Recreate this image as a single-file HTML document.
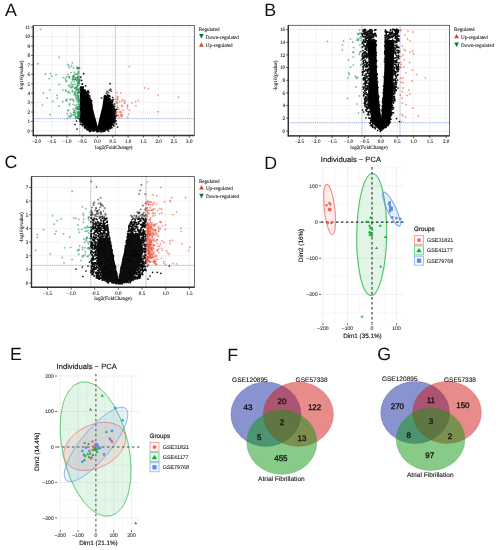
<!DOCTYPE html>
<html><head><meta charset="utf-8"><style>
html,body{margin:0;padding:0;background:#fff;}
svg{display:block;}
#w{will-change:transform;width:502px;height:550px;overflow:hidden;}
</style></head><body><div id="w">
<svg width="502" height="550" viewBox="0 0 502 550" text-rendering="geometricPrecision">
<rect width="502" height="550" fill="#fff"/>
<line x1="36.32" y1="25.4" x2="36.32" y2="135.5" stroke="#ebebeb" stroke-width="0.6" />
<line x1="51.62" y1="25.4" x2="51.62" y2="135.5" stroke="#ebebeb" stroke-width="0.6" />
<line x1="66.91" y1="25.4" x2="66.91" y2="135.5" stroke="#ebebeb" stroke-width="0.6" />
<line x1="82.2" y1="25.4" x2="82.2" y2="135.5" stroke="#ebebeb" stroke-width="0.6" />
<line x1="97.5" y1="25.4" x2="97.5" y2="135.5" stroke="#ebebeb" stroke-width="0.6" />
<line x1="112.8" y1="25.4" x2="112.8" y2="135.5" stroke="#ebebeb" stroke-width="0.6" />
<line x1="128.09" y1="25.4" x2="128.09" y2="135.5" stroke="#ebebeb" stroke-width="0.6" />
<line x1="143.38" y1="25.4" x2="143.38" y2="135.5" stroke="#ebebeb" stroke-width="0.6" />
<line x1="158.68" y1="25.4" x2="158.68" y2="135.5" stroke="#ebebeb" stroke-width="0.6" />
<line x1="173.97" y1="25.4" x2="173.97" y2="135.5" stroke="#ebebeb" stroke-width="0.6" />
<line x1="189.27" y1="25.4" x2="189.27" y2="135.5" stroke="#ebebeb" stroke-width="0.6" />
<line x1="33.3" y1="130.92" x2="194.3" y2="130.92" stroke="#ebebeb" stroke-width="0.6" />
<line x1="33.3" y1="121.49" x2="194.3" y2="121.49" stroke="#ebebeb" stroke-width="0.6" />
<line x1="33.3" y1="112.05" x2="194.3" y2="112.05" stroke="#ebebeb" stroke-width="0.6" />
<line x1="33.3" y1="102.62" x2="194.3" y2="102.62" stroke="#ebebeb" stroke-width="0.6" />
<line x1="33.3" y1="93.18" x2="194.3" y2="93.18" stroke="#ebebeb" stroke-width="0.6" />
<line x1="33.3" y1="83.75" x2="194.3" y2="83.75" stroke="#ebebeb" stroke-width="0.6" />
<line x1="33.3" y1="74.32" x2="194.3" y2="74.32" stroke="#ebebeb" stroke-width="0.6" />
<line x1="33.3" y1="64.88" x2="194.3" y2="64.88" stroke="#ebebeb" stroke-width="0.6" />
<line x1="33.3" y1="55.45" x2="194.3" y2="55.45" stroke="#ebebeb" stroke-width="0.6" />
<line x1="33.3" y1="46.01" x2="194.3" y2="46.01" stroke="#ebebeb" stroke-width="0.6" />
<line x1="33.3" y1="36.58" x2="194.3" y2="36.58" stroke="#ebebeb" stroke-width="0.6" />
<line x1="33.3" y1="27.15" x2="194.3" y2="27.15" stroke="#ebebeb" stroke-width="0.6" />
<line x1="79.6" y1="25.4" x2="79.6" y2="135.5" stroke="#e2e9f6" stroke-width="0.9" />
<line x1="115.4" y1="25.4" x2="115.4" y2="135.5" stroke="#e2e9f6" stroke-width="0.9" />
<line x1="33.3" y1="118.65" x2="194.3" y2="118.65" stroke="#e2e9f6" stroke-width="0.9" />
<g stroke-dasharray="1.0,1.05" fill="none">
<line x1="79.6" y1="25.4" x2="79.6" y2="135.5" stroke="#8c9fd6" stroke-width="0.75" />
<line x1="115.4" y1="25.4" x2="115.4" y2="135.5" stroke="#8c9fd6" stroke-width="0.75" />
<line x1="33.3" y1="118.65" x2="194.3" y2="118.65" stroke="#8c9fd6" stroke-width="0.75" />
</g>
<polygon points="80,86.3 81.3,86.3 84.1,89.2 88,93 89.4,97.3 91.8,101.1 92.7,105 92.8,108 94.5,115 96.5,122 97.7,126.8 99,120 101,112 102.2,107.5 103.2,100.4 103.7,95.6 108,95.6 112.3,101.8 113.7,107.5 115.5,113 115.2,120.6 111.5,127.2 104.8,130.6 97,131.5 88.9,129.8 83,124.7 79.8,118.9" fill="#000"/>
<path d="M116.2 115.4h0M107.9 96.4h0M107.8 95.7h0M114.5 122.7h0M114.7 121.5h0M112.0 105.4h0M104.5 131.2h0M107.7 95.0h0M112.4 101.7h0M89.2 130.7h0M101.2 131.7h0M108.9 96.2h0M98.1 131.6h0M105.2 130.3h0M90.0 129.4h0M104.9 129.4h0M109.4 100.3h0M111.9 101.7h0M99.9 130.0h0M84.7 127.9h0M104.4 129.9h0M88.2 128.1h0M101.4 131.7h0M103.0 130.9h0M114.0 112.3h0M104.9 95.7h0M112.1 100.0h0M111.2 101.1h0M86.3 127.3h0M109.6 127.7h0M85.7 128.1h0M117.0 115.5h0M112.4 102.2h0M112.6 107.8h0M115.4 109.9h0M113.3 116.9h0M96.8 131.3h0M101.0 131.9h0M92.4 129.2h0M114.9 119.9h0M102.6 131.0h0M113.7 106.6h0M108.3 95.6h0M109.9 98.6h0M84.9 126.3h0M113.7 109.8h0M112.6 97.5h0M112.5 124.7h0M109.6 99.1h0M88.0 129.1h0M81.1 122.1h0M109.9 128.7h0M81.5 119.3h0M114.1 110.1h0M90.4 130.1h0M115.7 116.4h0M81.3 118.6h0M88.5 128.8h0M110.4 127.8h0M105.7 96.3h0M98.8 131.1h0M84.4 123.0h0M115.4 118.1h0M113.4 106.2h0M84.3 124.5h0M101.0 130.7h0M101.7 130.3h0M93.0 130.9h0M89.8 131.6h0M80.1 121.4h0M81.7 121.9h0M112.2 101.7h0M90.3 131.2h0M80.1 119.5h0M108.5 128.9h0M80.2 120.0h0M80.6 124.1h0M88.2 129.8h0M115.3 113.2h0M114.0 109.8h0M82.6 125.7h0M106.8 129.4h0M81.7 124.4h0M111.1 128.0h0M114.4 104.0h0M111.2 103.4h0M107.4 130.0h0M108.1 128.6h0M107.7 129.9h0M90.7 130.4h0M93.6 130.1h0M102.9 130.7h0M96.8 131.7h0M113.8 125.0h0M85.8 126.3h0M109.3 128.5h0M112.2 101.4h0M108.7 97.0h0M100.1 129.3h0M112.0 100.5h0M113.5 99.5h0M114.4 106.4h0M113.8 126.0h0M111.4 102.8h0M115.7 116.3h0M96.8 131.4h0M114.7 123.0h0M102.8 130.8h0M80.9 117.6h0M110.1 98.9h0M91.3 130.8h0M116.0 120.9h0M115.6 111.2h0M106.8 129.1h0M107.7 94.8h0M109.9 96.2h0M91.2 130.9h0M109.1 95.5h0M113.5 114.8h0M115.3 111.0h0M114.3 108.4h0M107.8 96.3h0M115.5 112.2h0M112.0 127.7h0M105.1 95.8h0M94.3 130.9h0M113.0 125.1h0M87.5 129.9h0M86.8 129.3h0M99.1 131.3h0M87.4 127.6h0M115.0 120.8h0M112.6 100.9h0M114.5 109.6h0M88.1 127.4h0M115.0 112.0h0M113.7 125.0h0M116.8 109.3h0M108.6 131.0h0M115.5 113.3h0M114.2 118.9h0M113.1 105.3h0M115.3 110.4h0M107.7 95.7h0M112.8 107.1h0M92.7 129.6h0M84.4 126.9h0M81.2 121.1h0M103.3 131.4h0M83.2 124.7h0M90.5 98.8h0M88.5 91.8h0M88.8 97.6h0M88.8 95.5h0M82.1 87.2h0M83.1 86.9h0M87.9 94.3h0M88.9 92.7h0M88.5 97.1h0M89.9 96.0h0M85.0 89.9h0M89.6 97.9h0M90.9 100.7h0M87.1 91.5h0M88.4 94.6h0M83.2 89.4h0M85.1 90.3h0M82.0 88.1h0M88.8 95.6h0M87.3 93.2h0M83.2 87.6h0M91.7 100.7h0M88.1 90.6h0M87.1 92.7h0M91.5 101.1h0M82.2 84.2h0M85.6 85.9h0M83.6 73.7h0M80.8 77.1h0M81.6 80.3h0M82.4 83.9h0M110.1 83.7h0M77.0 129.0h0M75.0 124.5h0M76.5 121.0h0M79.0 118.5h0M117.5 127.0h0M116.5 124.0h0M101.5 98.0h0" stroke="#0d0d0d" stroke-width="1.74" stroke-linecap="round" fill="none"/>
<path d="M107.0 91.5h0M109.4 90.2h0M111.2 91.0h0M108.5 92.8h0M106.3 93.4h0M110.6 89.3h0" stroke="#555" stroke-width="1.95" stroke-linecap="round" fill="none"/>
<g fill="none" stroke="#1b8a4c" stroke-width="0.5"><circle cx="40.7" cy="29.4" r="0.58"/><circle cx="59.2" cy="57.3" r="0.58"/><circle cx="38.1" cy="63.8" r="0.58"/><circle cx="67.9" cy="64.5" r="0.58"/><circle cx="72.3" cy="62.8" r="0.58"/><circle cx="45.4" cy="74.0" r="0.58"/><circle cx="50.5" cy="73.6" r="0.58"/><circle cx="51.9" cy="76.2" r="0.58"/><circle cx="56.0" cy="74.7" r="0.58"/><circle cx="49.3" cy="78.7" r="0.58"/><circle cx="63.3" cy="77.6" r="0.58"/><circle cx="59.2" cy="84.5" r="0.58"/><circle cx="49.7" cy="90.0" r="0.58"/><circle cx="43.5" cy="93.0" r="0.58"/><circle cx="62.8" cy="90.0" r="0.58"/><circle cx="47.1" cy="98.0" r="0.58"/><circle cx="57.0" cy="95.4" r="0.58"/><circle cx="57.4" cy="98.3" r="0.58"/><circle cx="52.6" cy="101.3" r="0.58"/><circle cx="62.8" cy="101.6" r="0.58"/><circle cx="42.5" cy="105.0" r="0.58"/><circle cx="58.9" cy="106.0" r="0.58"/><circle cx="50.2" cy="114.7" r="0.58"/><circle cx="79.3" cy="115.8" r="0.58"/><circle cx="76.7" cy="108.9" r="0.58"/><circle cx="74.4" cy="112.4" r="0.58"/><circle cx="69.6" cy="78.1" r="0.58"/><circle cx="79.8" cy="91.4" r="0.58"/><circle cx="78.3" cy="89.6" r="0.58"/><circle cx="71.6" cy="82.5" r="0.58"/><circle cx="71.7" cy="66.1" r="0.58"/><circle cx="74.3" cy="72.3" r="0.58"/><circle cx="78.4" cy="113.2" r="0.58"/><circle cx="77.7" cy="85.5" r="0.58"/><circle cx="75.9" cy="118.2" r="0.58"/><circle cx="77.4" cy="84.9" r="0.58"/><circle cx="79.7" cy="80.4" r="0.58"/><circle cx="78.4" cy="71.3" r="0.58"/><circle cx="78.6" cy="114.9" r="0.58"/><circle cx="76.7" cy="79.9" r="0.58"/><circle cx="70.2" cy="116.0" r="0.58"/><circle cx="75.4" cy="108.5" r="0.58"/><circle cx="67.2" cy="113.8" r="0.58"/><circle cx="74.2" cy="94.7" r="0.58"/><circle cx="77.2" cy="68.6" r="0.58"/><circle cx="75.2" cy="105.4" r="0.58"/><circle cx="79.7" cy="81.0" r="0.58"/><circle cx="79.3" cy="114.5" r="0.58"/><circle cx="78.0" cy="90.7" r="0.58"/><circle cx="73.9" cy="81.6" r="0.58"/><circle cx="78.5" cy="117.1" r="0.58"/><circle cx="78.3" cy="100.3" r="0.58"/><circle cx="77.6" cy="95.1" r="0.58"/><circle cx="69.3" cy="76.9" r="0.58"/><circle cx="78.8" cy="92.0" r="0.58"/><circle cx="70.6" cy="113.4" r="0.58"/><circle cx="76.1" cy="79.5" r="0.58"/><circle cx="73.7" cy="112.4" r="0.58"/><circle cx="77.5" cy="87.6" r="0.58"/><circle cx="77.8" cy="93.4" r="0.58"/><circle cx="79.6" cy="83.7" r="0.58"/><circle cx="66.2" cy="80.5" r="0.58"/><circle cx="75.4" cy="92.3" r="0.58"/><circle cx="78.8" cy="111.1" r="0.58"/><circle cx="78.6" cy="80.2" r="0.58"/><circle cx="77.2" cy="86.9" r="0.58"/><circle cx="71.4" cy="115.9" r="0.58"/><circle cx="79.8" cy="111.7" r="0.58"/><circle cx="69.7" cy="67.7" r="0.58"/><circle cx="75.9" cy="90.8" r="0.58"/><circle cx="72.0" cy="114.5" r="0.58"/><circle cx="67.9" cy="110.7" r="0.58"/><circle cx="74.7" cy="93.3" r="0.58"/><circle cx="74.1" cy="115.2" r="0.58"/><circle cx="73.4" cy="99.9" r="0.58"/><circle cx="76.3" cy="89.9" r="0.58"/><circle cx="78.7" cy="68.1" r="0.58"/><circle cx="75.2" cy="114.1" r="0.58"/><circle cx="79.3" cy="81.9" r="0.58"/><circle cx="75.3" cy="79.2" r="0.58"/><circle cx="79.4" cy="102.5" r="0.58"/><circle cx="77.7" cy="96.5" r="0.58"/><circle cx="75.8" cy="77.7" r="0.58"/><circle cx="65.5" cy="90.1" r="0.58"/><circle cx="70.2" cy="99.7" r="0.58"/><circle cx="78.7" cy="90.9" r="0.58"/><circle cx="65.3" cy="78.9" r="0.58"/><circle cx="78.2" cy="102.9" r="0.58"/><circle cx="77.4" cy="101.3" r="0.58"/><circle cx="74.9" cy="79.5" r="0.58"/><circle cx="78.7" cy="114.4" r="0.58"/><circle cx="74.7" cy="88.0" r="0.58"/><circle cx="72.7" cy="76.4" r="0.58"/><circle cx="76.7" cy="104.7" r="0.58"/><circle cx="68.7" cy="76.7" r="0.58"/><circle cx="78.7" cy="108.9" r="0.58"/><circle cx="73.5" cy="77.6" r="0.58"/><circle cx="66.2" cy="81.4" r="0.58"/><circle cx="79.0" cy="91.9" r="0.58"/><circle cx="77.5" cy="77.7" r="0.58"/><circle cx="66.5" cy="100.8" r="0.58"/><circle cx="66.4" cy="77.1" r="0.58"/><circle cx="69.6" cy="86.6" r="0.58"/><circle cx="74.0" cy="112.2" r="0.58"/><circle cx="67.8" cy="118.2" r="0.58"/><circle cx="79.0" cy="83.2" r="0.58"/><circle cx="73.7" cy="114.9" r="0.58"/><circle cx="77.8" cy="67.7" r="0.58"/><circle cx="78.1" cy="85.6" r="0.58"/><circle cx="78.0" cy="80.6" r="0.58"/><circle cx="79.3" cy="116.0" r="0.58"/><circle cx="78.9" cy="116.4" r="0.58"/><circle cx="72.1" cy="84.7" r="0.58"/><circle cx="77.4" cy="109.0" r="0.58"/><circle cx="68.6" cy="85.5" r="0.58"/><circle cx="77.9" cy="76.1" r="0.58"/><circle cx="79.8" cy="112.9" r="0.58"/><circle cx="72.4" cy="87.5" r="0.58"/><circle cx="79.7" cy="106.1" r="0.58"/><circle cx="78.6" cy="114.1" r="0.58"/><circle cx="69.6" cy="105.1" r="0.58"/><circle cx="78.5" cy="83.7" r="0.58"/><circle cx="75.6" cy="116.1" r="0.58"/><circle cx="74.2" cy="79.7" r="0.58"/><circle cx="78.4" cy="82.6" r="0.58"/><circle cx="68.7" cy="66.2" r="0.58"/><circle cx="67.0" cy="99.2" r="0.58"/><circle cx="65.8" cy="90.9" r="0.58"/><circle cx="77.7" cy="115.9" r="0.58"/><circle cx="77.4" cy="79.1" r="0.58"/><circle cx="68.1" cy="91.8" r="0.58"/><circle cx="73.9" cy="75.6" r="0.58"/><circle cx="73.2" cy="109.0" r="0.58"/><circle cx="78.1" cy="97.8" r="0.58"/><circle cx="77.9" cy="82.7" r="0.58"/><circle cx="79.5" cy="106.9" r="0.58"/><circle cx="73.6" cy="76.3" r="0.58"/><circle cx="79.6" cy="78.9" r="0.58"/><circle cx="78.1" cy="67.8" r="0.58"/><circle cx="70.2" cy="117.3" r="0.58"/><circle cx="78.5" cy="117.7" r="0.58"/><circle cx="74.3" cy="92.1" r="0.58"/><circle cx="78.7" cy="89.4" r="0.58"/><circle cx="75.5" cy="87.8" r="0.58"/><circle cx="73.7" cy="101.3" r="0.58"/><circle cx="75.0" cy="110.3" r="0.58"/><circle cx="78.3" cy="72.3" r="0.58"/><circle cx="77.8" cy="95.6" r="0.58"/><circle cx="78.9" cy="104.6" r="0.58"/><circle cx="78.6" cy="78.9" r="0.58"/><circle cx="76.0" cy="74.0" r="0.58"/><circle cx="77.6" cy="83.1" r="0.58"/><circle cx="76.7" cy="117.9" r="0.58"/><circle cx="72.5" cy="78.1" r="0.58"/><circle cx="65.9" cy="100.2" r="0.58"/><circle cx="72.2" cy="90.8" r="0.58"/><circle cx="68.8" cy="110.0" r="0.58"/><circle cx="76.0" cy="116.9" r="0.58"/><circle cx="77.8" cy="114.6" r="0.58"/><circle cx="77.2" cy="111.3" r="0.58"/><circle cx="73.1" cy="79.6" r="0.58"/><circle cx="79.4" cy="115.5" r="0.58"/><circle cx="75.5" cy="97.2" r="0.58"/><circle cx="77.8" cy="77.4" r="0.58"/><circle cx="75.8" cy="79.3" r="0.58"/><circle cx="78.9" cy="100.1" r="0.58"/><circle cx="79.0" cy="101.5" r="0.58"/><circle cx="78.9" cy="82.3" r="0.58"/><circle cx="76.3" cy="107.6" r="0.58"/><circle cx="76.3" cy="86.7" r="0.58"/><circle cx="79.5" cy="99.4" r="0.58"/><circle cx="77.5" cy="74.6" r="0.58"/><circle cx="78.2" cy="80.8" r="0.58"/><circle cx="78.2" cy="115.9" r="0.58"/><circle cx="77.9" cy="95.6" r="0.58"/><circle cx="70.9" cy="87.8" r="0.58"/><circle cx="77.9" cy="118.1" r="0.58"/><circle cx="74.0" cy="76.3" r="0.58"/><circle cx="79.9" cy="76.7" r="0.58"/><circle cx="77.4" cy="113.2" r="0.58"/><circle cx="77.6" cy="108.9" r="0.58"/><circle cx="77.1" cy="112.2" r="0.58"/><circle cx="75.3" cy="94.8" r="0.58"/><circle cx="79.5" cy="113.6" r="0.58"/><circle cx="77.8" cy="98.5" r="0.58"/><circle cx="79.2" cy="92.4" r="0.58"/><circle cx="76.6" cy="80.8" r="0.58"/><circle cx="79.4" cy="114.4" r="0.58"/><circle cx="72.5" cy="91.7" r="0.58"/><circle cx="78.9" cy="116.6" r="0.58"/><circle cx="71.0" cy="72.6" r="0.58"/><circle cx="77.7" cy="68.8" r="0.58"/><circle cx="75.5" cy="113.3" r="0.58"/><circle cx="79.1" cy="109.1" r="0.58"/><circle cx="78.8" cy="107.1" r="0.58"/><circle cx="71.5" cy="87.2" r="0.58"/><circle cx="79.0" cy="109.4" r="0.58"/><circle cx="77.6" cy="77.4" r="0.58"/><circle cx="77.7" cy="93.1" r="0.58"/><circle cx="69.7" cy="103.9" r="0.58"/><circle cx="73.5" cy="68.1" r="0.58"/><circle cx="79.3" cy="68.0" r="0.58"/><circle cx="76.3" cy="97.4" r="0.58"/><circle cx="78.3" cy="98.8" r="0.58"/><circle cx="76.0" cy="88.0" r="0.58"/><circle cx="75.1" cy="88.3" r="0.58"/><circle cx="77.3" cy="89.4" r="0.58"/><circle cx="76.9" cy="67.2" r="0.58"/><circle cx="73.4" cy="78.3" r="0.58"/><circle cx="77.1" cy="106.8" r="0.58"/><circle cx="79.5" cy="88.5" r="0.58"/><circle cx="76.7" cy="89.1" r="0.58"/><circle cx="79.5" cy="68.1" r="0.58"/><circle cx="73.1" cy="104.4" r="0.58"/><circle cx="79.6" cy="92.8" r="0.58"/><circle cx="77.8" cy="92.4" r="0.58"/><circle cx="79.2" cy="115.7" r="0.58"/><circle cx="74.4" cy="110.8" r="0.58"/><circle cx="78.9" cy="108.6" r="0.58"/><circle cx="76.9" cy="117.3" r="0.58"/><circle cx="68.8" cy="116.0" r="0.58"/><circle cx="67.9" cy="74.6" r="0.58"/><circle cx="79.1" cy="105.5" r="0.58"/><circle cx="78.5" cy="112.9" r="0.58"/><circle cx="79.2" cy="108.7" r="0.58"/><circle cx="68.5" cy="92.3" r="0.58"/><circle cx="78.5" cy="76.9" r="0.58"/><circle cx="78.2" cy="92.5" r="0.58"/><circle cx="74.8" cy="74.4" r="0.58"/><circle cx="79.1" cy="112.8" r="0.58"/><circle cx="79.3" cy="107.0" r="0.58"/><circle cx="75.3" cy="93.8" r="0.58"/><circle cx="70.6" cy="84.8" r="0.58"/><circle cx="76.0" cy="95.0" r="0.58"/><circle cx="79.4" cy="112.2" r="0.58"/><circle cx="75.4" cy="117.9" r="0.58"/><circle cx="72.7" cy="86.6" r="0.58"/><circle cx="72.3" cy="79.8" r="0.58"/><circle cx="73.4" cy="84.8" r="0.58"/><circle cx="79.0" cy="89.1" r="0.58"/><circle cx="79.7" cy="104.9" r="0.58"/><circle cx="78.6" cy="108.9" r="0.58"/><circle cx="72.4" cy="99.4" r="0.58"/><circle cx="78.2" cy="100.7" r="0.58"/><circle cx="77.4" cy="73.8" r="0.58"/><circle cx="69.7" cy="92.8" r="0.58"/><circle cx="79.8" cy="100.2" r="0.58"/><circle cx="76.0" cy="77.7" r="0.58"/><circle cx="78.9" cy="96.8" r="0.58"/><circle cx="77.0" cy="98.6" r="0.58"/><circle cx="78.6" cy="73.0" r="0.58"/><circle cx="70.7" cy="99.4" r="0.58"/><circle cx="77.6" cy="106.9" r="0.58"/><circle cx="79.8" cy="79.8" r="0.58"/><circle cx="76.2" cy="99.7" r="0.58"/><circle cx="75.2" cy="84.3" r="0.58"/></g>
<g fill="none" stroke="#e4533d" stroke-width="0.5"><circle cx="129.5" cy="66.7" r="0.58"/><circle cx="144.7" cy="87.9" r="0.58"/><circle cx="148.3" cy="88.7" r="0.58"/><circle cx="157.9" cy="95.1" r="0.58"/><circle cx="178.6" cy="97.1" r="0.58"/><circle cx="157.9" cy="111.8" r="0.58"/><circle cx="120.8" cy="93.1" r="0.58"/><circle cx="116.8" cy="92.7" r="0.58"/><circle cx="138.3" cy="100.6" r="0.58"/><circle cx="135.6" cy="101.8" r="0.58"/><circle cx="131.9" cy="103.0" r="0.58"/><circle cx="135.9" cy="105.9" r="0.58"/><circle cx="127.6" cy="105.4" r="0.58"/><circle cx="122.8" cy="99.8" r="0.58"/><circle cx="124.7" cy="102.2" r="0.58"/><circle cx="128.7" cy="114.2" r="0.58"/><circle cx="127.6" cy="117.4" r="0.58"/><circle cx="127.3" cy="105.9" r="0.58"/><circle cx="117.3" cy="112.3" r="0.58"/><circle cx="116.4" cy="116.1" r="0.58"/><circle cx="118.3" cy="107.8" r="0.58"/><circle cx="116.4" cy="101.3" r="0.58"/><circle cx="116.2" cy="113.3" r="0.58"/><circle cx="127.5" cy="108.2" r="0.58"/><circle cx="117.1" cy="99.2" r="0.58"/><circle cx="119.0" cy="109.5" r="0.58"/><circle cx="122.9" cy="110.2" r="0.58"/><circle cx="117.7" cy="99.9" r="0.58"/><circle cx="116.4" cy="102.7" r="0.58"/><circle cx="122.3" cy="115.7" r="0.58"/><circle cx="116.2" cy="111.9" r="0.58"/><circle cx="121.7" cy="114.7" r="0.58"/><circle cx="121.6" cy="106.3" r="0.58"/><circle cx="117.2" cy="106.0" r="0.58"/><circle cx="117.3" cy="98.3" r="0.58"/><circle cx="117.8" cy="96.9" r="0.58"/><circle cx="121.0" cy="112.6" r="0.58"/><circle cx="121.2" cy="114.8" r="0.58"/><circle cx="119.4" cy="101.9" r="0.58"/><circle cx="122.4" cy="105.7" r="0.58"/><circle cx="117.4" cy="107.6" r="0.58"/><circle cx="129.6" cy="110.3" r="0.58"/><circle cx="124.7" cy="100.8" r="0.58"/><circle cx="117.4" cy="96.3" r="0.58"/><circle cx="121.6" cy="101.2" r="0.58"/><circle cx="121.7" cy="117.0" r="0.58"/><circle cx="124.7" cy="103.3" r="0.58"/><circle cx="117.3" cy="103.3" r="0.58"/><circle cx="120.2" cy="116.1" r="0.58"/><circle cx="120.6" cy="111.4" r="0.58"/><circle cx="118.7" cy="117.7" r="0.58"/><circle cx="121.0" cy="114.6" r="0.58"/><circle cx="118.5" cy="115.0" r="0.58"/><circle cx="119.6" cy="112.1" r="0.58"/><circle cx="117.2" cy="102.8" r="0.58"/></g>
<rect x="33.3" y="25.4" width="161" height="110.1" fill="none" stroke="#444" stroke-width="0.8"/>
<line x1="33.3" y1="25.4" x2="33.3" y2="136.1" stroke="#333" stroke-width="1.4" />
<line x1="32.7" y1="135.5" x2="194.3" y2="135.5" stroke="#333" stroke-width="1.4" />
<line x1="31.1" y1="130.92" x2="33.3" y2="130.92" stroke="#333" stroke-width="0.8" />
<text x="30.1" y="132.72" font-size="5.1" font-family='"Liberation Serif", serif' text-anchor="end" fill="#222" stroke="#222" stroke-width="0.1" >0</text>
<line x1="31.1" y1="121.49" x2="33.3" y2="121.49" stroke="#333" stroke-width="0.8" />
<text x="30.1" y="123.29" font-size="5.1" font-family='"Liberation Serif", serif' text-anchor="end" fill="#222" stroke="#222" stroke-width="0.1" >1</text>
<line x1="31.1" y1="112.05" x2="33.3" y2="112.05" stroke="#333" stroke-width="0.8" />
<text x="30.1" y="113.85" font-size="5.1" font-family='"Liberation Serif", serif' text-anchor="end" fill="#222" stroke="#222" stroke-width="0.1" >2</text>
<line x1="31.1" y1="102.62" x2="33.3" y2="102.62" stroke="#333" stroke-width="0.8" />
<text x="30.1" y="104.42" font-size="5.1" font-family='"Liberation Serif", serif' text-anchor="end" fill="#222" stroke="#222" stroke-width="0.1" >3</text>
<line x1="31.1" y1="93.18" x2="33.3" y2="93.18" stroke="#333" stroke-width="0.8" />
<text x="30.1" y="94.98" font-size="5.1" font-family='"Liberation Serif", serif' text-anchor="end" fill="#222" stroke="#222" stroke-width="0.1" >4</text>
<line x1="31.1" y1="83.75" x2="33.3" y2="83.75" stroke="#333" stroke-width="0.8" />
<text x="30.1" y="85.55" font-size="5.1" font-family='"Liberation Serif", serif' text-anchor="end" fill="#222" stroke="#222" stroke-width="0.1" >5</text>
<line x1="31.1" y1="74.32" x2="33.3" y2="74.32" stroke="#333" stroke-width="0.8" />
<text x="30.1" y="76.12" font-size="5.1" font-family='"Liberation Serif", serif' text-anchor="end" fill="#222" stroke="#222" stroke-width="0.1" >6</text>
<line x1="31.1" y1="64.88" x2="33.3" y2="64.88" stroke="#333" stroke-width="0.8" />
<text x="30.1" y="66.68" font-size="5.1" font-family='"Liberation Serif", serif' text-anchor="end" fill="#222" stroke="#222" stroke-width="0.1" >7</text>
<line x1="31.1" y1="55.45" x2="33.3" y2="55.45" stroke="#333" stroke-width="0.8" />
<text x="30.1" y="57.25" font-size="5.1" font-family='"Liberation Serif", serif' text-anchor="end" fill="#222" stroke="#222" stroke-width="0.1" >8</text>
<line x1="31.1" y1="46.01" x2="33.3" y2="46.01" stroke="#333" stroke-width="0.8" />
<text x="30.1" y="47.81" font-size="5.1" font-family='"Liberation Serif", serif' text-anchor="end" fill="#222" stroke="#222" stroke-width="0.1" >9</text>
<line x1="31.1" y1="36.58" x2="33.3" y2="36.58" stroke="#333" stroke-width="0.8" />
<text x="30.1" y="38.38" font-size="5.1" font-family='"Liberation Serif", serif' text-anchor="end" fill="#222" stroke="#222" stroke-width="0.1" >10</text>
<line x1="31.1" y1="27.15" x2="33.3" y2="27.15" stroke="#333" stroke-width="0.8" />
<text x="30.1" y="28.95" font-size="5.1" font-family='"Liberation Serif", serif' text-anchor="end" fill="#222" stroke="#222" stroke-width="0.1" >11</text>
<line x1="36.32" y1="135.5" x2="36.32" y2="137.7" stroke="#333" stroke-width="0.8" />
<text x="36.32" y="142.8" font-size="5.1" font-family='"Liberation Serif", serif' text-anchor="middle" fill="#222" stroke="#222" stroke-width="0.1" >−2.0</text>
<line x1="51.62" y1="135.5" x2="51.62" y2="137.7" stroke="#333" stroke-width="0.8" />
<text x="51.62" y="142.8" font-size="5.1" font-family='"Liberation Serif", serif' text-anchor="middle" fill="#222" stroke="#222" stroke-width="0.1" >−1.5</text>
<line x1="66.91" y1="135.5" x2="66.91" y2="137.7" stroke="#333" stroke-width="0.8" />
<text x="66.91" y="142.8" font-size="5.1" font-family='"Liberation Serif", serif' text-anchor="middle" fill="#222" stroke="#222" stroke-width="0.1" >−1.0</text>
<line x1="82.2" y1="135.5" x2="82.2" y2="137.7" stroke="#333" stroke-width="0.8" />
<text x="82.2" y="142.8" font-size="5.1" font-family='"Liberation Serif", serif' text-anchor="middle" fill="#222" stroke="#222" stroke-width="0.1" >−0.5</text>
<line x1="97.5" y1="135.5" x2="97.5" y2="137.7" stroke="#333" stroke-width="0.8" />
<text x="97.5" y="142.8" font-size="5.1" font-family='"Liberation Serif", serif' text-anchor="middle" fill="#222" stroke="#222" stroke-width="0.1" >0.0</text>
<line x1="112.8" y1="135.5" x2="112.8" y2="137.7" stroke="#333" stroke-width="0.8" />
<text x="112.8" y="142.8" font-size="5.1" font-family='"Liberation Serif", serif' text-anchor="middle" fill="#222" stroke="#222" stroke-width="0.1" >0.5</text>
<line x1="128.09" y1="135.5" x2="128.09" y2="137.7" stroke="#333" stroke-width="0.8" />
<text x="128.09" y="142.8" font-size="5.1" font-family='"Liberation Serif", serif' text-anchor="middle" fill="#222" stroke="#222" stroke-width="0.1" >1.0</text>
<line x1="143.38" y1="135.5" x2="143.38" y2="137.7" stroke="#333" stroke-width="0.8" />
<text x="143.38" y="142.8" font-size="5.1" font-family='"Liberation Serif", serif' text-anchor="middle" fill="#222" stroke="#222" stroke-width="0.1" >1.5</text>
<line x1="158.68" y1="135.5" x2="158.68" y2="137.7" stroke="#333" stroke-width="0.8" />
<text x="158.68" y="142.8" font-size="5.1" font-family='"Liberation Serif", serif' text-anchor="middle" fill="#222" stroke="#222" stroke-width="0.1" >2.0</text>
<line x1="173.97" y1="135.5" x2="173.97" y2="137.7" stroke="#333" stroke-width="0.8" />
<text x="173.97" y="142.8" font-size="5.1" font-family='"Liberation Serif", serif' text-anchor="middle" fill="#222" stroke="#222" stroke-width="0.1" >2.5</text>
<line x1="189.27" y1="135.5" x2="189.27" y2="137.7" stroke="#333" stroke-width="0.8" />
<text x="189.27" y="142.8" font-size="5.1" font-family='"Liberation Serif", serif' text-anchor="middle" fill="#222" stroke="#222" stroke-width="0.1" >3.0</text>
<text x="113.8" y="148.5" font-size="5.1" font-family='"Liberation Serif", serif' text-anchor="middle" fill="#222" stroke="#222" stroke-width="0.1" >log2(FoldChange)</text>
<text x="0" y="0" font-size="5.1" font-family='"Liberation Serif", serif' text-anchor="middle" fill="#222" stroke="#222" stroke-width="0.1" transform="translate(23,75.7) rotate(-90)">-log10(pvalue)</text>
<text x="198.8" y="31.2" font-size="5.1" font-family='"Liberation Serif", serif' text-anchor="start" fill="#222" stroke="#222" stroke-width="0.1" >Regulated</text>
<polygon points="199,34 203.8,34 201.4,38.4" fill="#0b7a3e" />
<text x="205.8" y="38.8" font-size="5.1" font-family='"Liberation Serif", serif' text-anchor="start" fill="#222" stroke="#222" stroke-width="0.1" >Down-regulated</text>
<polygon points="199,46.8 203.8,46.8 201.4,42.4" fill="#e0402a" />
<text x="205.8" y="47.1" font-size="5.1" font-family='"Liberation Serif", serif' text-anchor="start" fill="#222" stroke="#222" stroke-width="0.1" >Up-regulated</text>
<line x1="299.55" y1="25.3" x2="299.55" y2="135.9" stroke="#ebebeb" stroke-width="0.6" />
<line x1="315.83" y1="25.3" x2="315.83" y2="135.9" stroke="#ebebeb" stroke-width="0.6" />
<line x1="332.12" y1="25.3" x2="332.12" y2="135.9" stroke="#ebebeb" stroke-width="0.6" />
<line x1="348.41" y1="25.3" x2="348.41" y2="135.9" stroke="#ebebeb" stroke-width="0.6" />
<line x1="364.69" y1="25.3" x2="364.69" y2="135.9" stroke="#ebebeb" stroke-width="0.6" />
<line x1="380.98" y1="25.3" x2="380.98" y2="135.9" stroke="#ebebeb" stroke-width="0.6" />
<line x1="397.27" y1="25.3" x2="397.27" y2="135.9" stroke="#ebebeb" stroke-width="0.6" />
<line x1="413.55" y1="25.3" x2="413.55" y2="135.9" stroke="#ebebeb" stroke-width="0.6" />
<line x1="429.84" y1="25.3" x2="429.84" y2="135.9" stroke="#ebebeb" stroke-width="0.6" />
<line x1="446.13" y1="25.3" x2="446.13" y2="135.9" stroke="#ebebeb" stroke-width="0.6" />
<line x1="288.3" y1="130.95" x2="449.6" y2="130.95" stroke="#ebebeb" stroke-width="0.6" />
<line x1="288.3" y1="118.28" x2="449.6" y2="118.28" stroke="#ebebeb" stroke-width="0.6" />
<line x1="288.3" y1="105.6" x2="449.6" y2="105.6" stroke="#ebebeb" stroke-width="0.6" />
<line x1="288.3" y1="92.93" x2="449.6" y2="92.93" stroke="#ebebeb" stroke-width="0.6" />
<line x1="288.3" y1="80.25" x2="449.6" y2="80.25" stroke="#ebebeb" stroke-width="0.6" />
<line x1="288.3" y1="67.58" x2="449.6" y2="67.58" stroke="#ebebeb" stroke-width="0.6" />
<line x1="288.3" y1="54.91" x2="449.6" y2="54.91" stroke="#ebebeb" stroke-width="0.6" />
<line x1="288.3" y1="42.23" x2="449.6" y2="42.23" stroke="#ebebeb" stroke-width="0.6" />
<line x1="288.3" y1="29.56" x2="449.6" y2="29.56" stroke="#ebebeb" stroke-width="0.6" />
<line x1="361.92" y1="25.3" x2="361.92" y2="135.9" stroke="#e2e9f6" stroke-width="0.9" />
<line x1="400.04" y1="25.3" x2="400.04" y2="135.9" stroke="#e2e9f6" stroke-width="0.9" />
<line x1="288.3" y1="122.71" x2="449.6" y2="122.71" stroke="#e2e9f6" stroke-width="0.9" />
<g stroke-dasharray="1.0,1.05" fill="none">
<line x1="361.92" y1="25.3" x2="361.92" y2="135.9" stroke="#8c9fd6" stroke-width="0.75" />
<line x1="400.04" y1="25.3" x2="400.04" y2="135.9" stroke="#8c9fd6" stroke-width="0.75" />
<line x1="288.3" y1="122.71" x2="449.6" y2="122.71" stroke="#8c9fd6" stroke-width="0.75" />
</g>
<polygon points="366.5,40 376.2,40 376.9,70 379,100 381.2,118.4 382.6,100 384.3,70 384.8,40 394.5,40 393.5,70 393,100 390,124 381,131.6 372,123 367.8,100 369.4,70" fill="#000"/>
<path d="M365.7 41.0h0M365.7 62.3h0M362.2 55.9h0M362.4 71.9h0M365.1 29.6h0M365.3 80.3h0M365.9 101.3h0M363.9 94.9h0M368.6 70.7h0M370.7 120.4h0M364.8 54.9h0M365.8 69.4h0M367.8 94.0h0M362.9 57.7h0M368.6 56.7h0M367.5 85.8h0M367.2 54.7h0M363.7 44.2h0M366.9 53.5h0M371.1 121.7h0M367.4 114.5h0M368.2 62.1h0M365.9 98.0h0M367.6 72.8h0M372.8 123.8h0M363.8 95.7h0M364.7 31.1h0M366.5 104.8h0M370.6 125.3h0M367.8 104.4h0M365.4 49.3h0M364.8 90.8h0M366.7 33.4h0M365.3 38.1h0M369.3 75.5h0M366.1 33.5h0M363.8 62.8h0M364.2 78.9h0M364.5 75.4h0M368.3 114.0h0M365.9 78.5h0M366.7 50.2h0M370.2 123.2h0M366.1 48.2h0M362.7 42.1h0M364.1 71.2h0M366.4 63.9h0M368.8 84.0h0M366.9 99.2h0M366.6 82.9h0M367.7 96.0h0M364.6 42.2h0M367.4 71.3h0M365.7 102.5h0M367.5 108.8h0M370.0 123.0h0M368.7 90.6h0M367.7 100.4h0M363.8 39.8h0M368.0 103.0h0M365.1 56.9h0M368.5 75.7h0M366.5 47.3h0M367.4 87.2h0M368.5 54.7h0M367.2 53.9h0M364.8 102.0h0M368.6 103.7h0M366.2 76.0h0M367.0 108.8h0M367.8 69.5h0M368.0 97.6h0M363.1 61.5h0M364.2 103.1h0M362.6 33.6h0M365.6 60.6h0M362.7 54.6h0M371.6 124.8h0M366.6 35.6h0M364.5 87.3h0M367.4 66.5h0M363.0 58.3h0M364.0 62.8h0M365.4 85.3h0M366.6 54.8h0M368.9 114.9h0M367.6 89.2h0M363.5 33.6h0M365.5 103.7h0M365.0 59.9h0M365.6 38.2h0M372.8 127.4h0M363.6 84.0h0M366.1 88.3h0M363.3 71.4h0M362.9 53.8h0M365.0 106.1h0M365.4 86.4h0M363.3 63.3h0M362.6 46.9h0M369.2 65.8h0M364.6 98.4h0M367.0 80.9h0M380.2 131.4h0M368.5 86.1h0M363.0 64.1h0M366.3 65.4h0M365.0 36.3h0M371.1 121.8h0M366.0 70.5h0M366.7 77.1h0M368.2 105.6h0M371.8 126.1h0M366.2 107.2h0M362.3 43.3h0M368.4 111.7h0M369.5 118.2h0M366.6 56.4h0M367.2 63.5h0M364.7 105.1h0M365.0 99.6h0M366.2 73.7h0M364.1 79.6h0M364.0 65.8h0M367.0 47.7h0M369.2 69.1h0M366.4 49.9h0M366.1 92.4h0M364.2 45.3h0M368.9 64.4h0M367.1 62.8h0M362.6 74.9h0M370.9 120.9h0M367.1 56.4h0M366.7 50.2h0M365.8 39.9h0M367.9 87.1h0M366.1 85.5h0M368.5 106.6h0M368.2 75.7h0M363.1 86.9h0M363.7 95.9h0M364.1 77.5h0M371.4 121.0h0M363.4 88.9h0M368.4 112.7h0M364.7 64.9h0M365.6 52.1h0M366.3 49.8h0M364.9 83.6h0M370.5 112.6h0M371.7 119.6h0M365.6 62.5h0M363.9 56.2h0M366.9 54.5h0M365.9 52.5h0M364.5 57.7h0M366.1 94.1h0M368.2 87.9h0M363.2 78.6h0M363.0 50.6h0M363.8 40.5h0M365.8 55.4h0M364.4 30.8h0M366.8 45.3h0M364.9 82.1h0M367.4 70.3h0M367.6 65.3h0M367.1 55.1h0M372.1 125.8h0M363.0 36.4h0M363.7 60.6h0M368.8 103.7h0M368.8 83.2h0M366.6 111.2h0M369.1 108.0h0M365.5 52.0h0M370.9 118.8h0M366.3 32.5h0M363.6 41.6h0M365.1 53.2h0M364.1 36.5h0M365.9 38.0h0M365.7 97.6h0M366.0 33.2h0M373.0 126.0h0M362.9 53.6h0M362.1 59.2h0M364.2 52.4h0M364.4 71.2h0M365.2 79.0h0M375.3 128.7h0M363.1 30.0h0M368.2 83.1h0M366.8 35.1h0M368.4 80.0h0M363.9 94.6h0M366.8 45.7h0M363.1 69.2h0M366.6 98.2h0M367.3 108.4h0M363.8 36.8h0M368.3 55.0h0M366.9 67.1h0M368.6 68.3h0M368.3 55.1h0M365.6 77.0h0M365.8 66.7h0M366.8 57.8h0M363.6 30.1h0M365.6 46.1h0M364.9 51.9h0M365.3 78.8h0M365.6 90.3h0M368.6 73.2h0M369.5 73.9h0M375.9 127.0h0M368.0 78.8h0M368.9 69.3h0M364.9 100.4h0M364.6 52.9h0M372.4 124.2h0M362.5 35.2h0M365.2 48.0h0M368.5 105.2h0M367.9 107.3h0M363.8 57.9h0M365.9 96.7h0M370.6 118.2h0M364.6 99.3h0M364.4 77.8h0M365.7 42.2h0M368.7 91.6h0M365.8 81.6h0M367.8 87.9h0M377.7 130.3h0M366.7 44.0h0M362.9 72.9h0M363.6 78.5h0M368.2 108.1h0M365.3 36.6h0M366.5 45.4h0M365.0 34.2h0M364.8 93.7h0M365.0 98.3h0M366.1 70.4h0M366.9 98.4h0M365.5 98.3h0M368.5 100.9h0M361.9 33.8h0M365.6 82.8h0M365.4 84.1h0M363.0 66.5h0M368.9 107.7h0M365.9 61.5h0M366.5 89.8h0M369.2 111.6h0M366.8 106.8h0M363.5 67.4h0M368.9 117.9h0M368.7 70.8h0M366.3 110.6h0M363.8 92.3h0M364.1 45.9h0M366.6 100.9h0M367.1 94.8h0M366.0 74.4h0M374.7 127.4h0M365.3 88.8h0M366.0 109.7h0M368.9 78.8h0M366.6 38.1h0M363.5 79.8h0M367.6 76.9h0M364.0 52.4h0M396.4 77.8h0M393.0 97.1h0M398.7 68.8h0M397.0 50.4h0M395.0 57.9h0M397.9 40.7h0M396.8 39.8h0M395.7 80.4h0M395.8 86.8h0M396.8 47.5h0M392.9 100.1h0M394.5 96.3h0M398.6 53.0h0M391.1 113.0h0M398.0 67.6h0M395.2 75.2h0M394.9 62.1h0M392.3 112.6h0M398.8 47.4h0M395.3 89.7h0M394.9 92.8h0M398.3 30.9h0M395.6 54.0h0M398.0 36.1h0M395.7 81.6h0M395.8 53.0h0M394.5 51.5h0M392.7 78.9h0M396.8 55.8h0M395.1 45.6h0M397.3 68.1h0M398.9 52.2h0M396.0 60.5h0M394.5 93.7h0M394.2 60.5h0M395.1 51.9h0M394.3 49.8h0M393.7 87.1h0M397.5 57.5h0M395.5 87.2h0M396.3 65.5h0M396.8 42.5h0M394.3 91.7h0M395.9 57.8h0M397.9 57.3h0M394.5 51.1h0M399.1 51.6h0M391.9 109.1h0M393.0 90.0h0M394.9 88.3h0M398.8 38.8h0M394.2 70.1h0M395.3 45.5h0M394.9 71.0h0M394.0 74.0h0M396.1 86.0h0M396.0 89.7h0M394.8 64.5h0M393.5 58.5h0M397.0 40.9h0M396.2 31.4h0M395.3 42.7h0M395.5 71.5h0M393.1 62.3h0M397.0 62.6h0M394.9 100.7h0M394.9 86.5h0M395.7 60.8h0M397.8 40.1h0M396.3 86.9h0M396.1 37.2h0M393.6 102.9h0M399.0 40.9h0M391.8 114.3h0M398.5 55.5h0M398.3 55.6h0M394.0 96.5h0M397.9 74.6h0M397.1 47.4h0M394.8 91.0h0M398.9 51.0h0M399.0 62.8h0M393.3 67.5h0M392.2 107.4h0M392.5 105.3h0M396.9 50.4h0M399.0 36.2h0M395.3 29.9h0M393.3 94.3h0M395.5 41.9h0M396.2 82.5h0M396.7 41.9h0M394.5 88.4h0M394.5 80.1h0M388.0 125.6h0M398.3 70.1h0M398.8 58.4h0M397.4 52.4h0M395.6 37.2h0M396.8 45.0h0M397.0 46.4h0M394.1 84.7h0M395.4 48.6h0M396.7 30.6h0M398.8 56.4h0M395.1 82.6h0M396.7 67.3h0M393.5 89.6h0M395.8 38.5h0M395.8 64.6h0M397.5 80.1h0M393.1 102.4h0M394.1 53.0h0M393.2 83.1h0M394.0 80.1h0M396.4 55.6h0M397.1 36.7h0M393.6 84.4h0M392.8 69.4h0M397.4 66.9h0M398.4 66.3h0M395.6 73.9h0M386.1 127.4h0M392.9 73.6h0M393.5 88.9h0M393.0 74.8h0M396.8 67.8h0M394.0 80.5h0M393.1 83.1h0M395.7 76.2h0M390.9 119.2h0M394.8 99.1h0M396.9 69.7h0M398.5 50.7h0M396.6 82.6h0M397.6 75.2h0M395.8 35.9h0M391.5 114.5h0M394.4 98.4h0M398.7 50.6h0M394.8 34.3h0M393.2 98.6h0M393.6 93.3h0M395.7 62.4h0M395.8 72.2h0M395.0 47.6h0M393.0 71.7h0M393.6 63.2h0M397.1 59.7h0M394.7 48.0h0M393.0 65.0h0M398.2 64.7h0M395.8 41.3h0M393.4 71.1h0M393.9 91.5h0M392.9 109.3h0M393.7 85.9h0M396.4 41.6h0M398.0 71.2h0M397.0 33.9h0M395.7 34.7h0M398.9 50.7h0M395.2 83.9h0M394.6 90.7h0M394.1 100.9h0M396.7 31.3h0M397.2 36.8h0M395.5 62.6h0M398.7 67.0h0M393.3 79.6h0M395.7 80.3h0M394.2 51.8h0M396.2 66.8h0M397.0 68.7h0M394.7 68.1h0M391.5 114.8h0M396.5 61.4h0M398.2 47.2h0M393.0 80.5h0M396.3 60.4h0M395.2 41.4h0M398.4 38.9h0M395.1 41.6h0M397.0 62.7h0M396.5 68.5h0M394.3 96.8h0M393.6 107.7h0M394.4 73.5h0M397.5 34.2h0M394.8 100.0h0M393.9 67.1h0M396.4 76.2h0M394.9 49.7h0M397.5 35.1h0M397.8 47.4h0M394.1 72.2h0M391.7 112.2h0M395.0 58.0h0M390.6 116.3h0M397.0 38.4h0M392.0 106.9h0M398.8 40.4h0M390.0 122.2h0M395.2 78.8h0M392.9 99.9h0M392.7 96.1h0M395.0 83.6h0M396.2 90.6h0M395.7 31.7h0M397.4 71.7h0M396.1 84.3h0M393.5 84.4h0M364.3 29.8h0M371.5 39.0h0M371.7 36.7h0M368.7 40.0h0M368.5 31.0h0M365.7 37.8h0M368.1 34.7h0M364.6 29.5h0M366.0 33.9h0M367.9 38.1h0M371.4 30.5h0M365.6 38.8h0M368.6 39.6h0M368.6 40.8h0M369.9 36.9h0M370.1 37.8h0M372.1 33.8h0M367.5 33.0h0M373.1 35.4h0M372.2 30.0h0M368.1 33.3h0M369.5 38.0h0M370.2 30.4h0M365.9 37.6h0M370.7 38.3h0M374.1 35.4h0M364.9 30.0h0M372.5 33.5h0M365.4 37.8h0M365.1 32.1h0M368.1 37.6h0M369.1 31.7h0M374.4 33.5h0M375.4 33.6h0M365.6 29.8h0M371.4 35.6h0M372.3 31.8h0M373.0 34.4h0M367.6 35.8h0M364.5 31.9h0M370.2 38.4h0M368.3 34.4h0M366.0 39.5h0M366.7 32.1h0M369.8 35.7h0M366.0 36.7h0M373.3 39.5h0M370.2 32.4h0M372.5 40.0h0M370.5 31.8h0M370.5 32.8h0M369.9 29.7h0M368.2 30.9h0M370.9 38.3h0M374.5 40.2h0M373.9 35.7h0M373.4 39.7h0M375.5 33.6h0M370.3 30.8h0M363.2 31.0h0M365.2 29.7h0M367.3 33.9h0M366.0 32.7h0M372.1 37.4h0M373.8 39.4h0M366.7 40.5h0M375.0 29.9h0M370.4 40.0h0M368.6 31.2h0M373.6 35.9h0M366.3 40.3h0M371.8 32.6h0M364.9 32.3h0M370.3 32.9h0M374.6 33.5h0M371.0 35.6h0M375.4 40.7h0M364.7 31.9h0M370.0 40.9h0M374.6 30.3h0M370.7 39.1h0M367.7 37.7h0M365.6 30.4h0M364.8 32.5h0M369.7 35.7h0M370.0 38.8h0M369.5 33.3h0M365.4 30.3h0M368.7 36.6h0M373.4 37.2h0M367.6 31.8h0M365.9 40.2h0M373.3 40.7h0M363.6 31.7h0M370.6 33.9h0M371.0 29.9h0M396.7 29.2h0M394.7 34.3h0M393.5 41.0h0M392.8 32.8h0M390.8 34.2h0M388.5 34.9h0M387.6 32.1h0M391.6 37.2h0M393.4 36.3h0M395.1 34.5h0M390.5 30.2h0M395.1 38.3h0M386.0 32.6h0M392.5 32.3h0M394.5 29.9h0M393.3 34.1h0M386.8 36.6h0M392.2 33.0h0M387.1 32.2h0M394.8 34.4h0M386.6 32.1h0M389.9 37.0h0M396.6 31.9h0M393.4 29.3h0M395.6 37.1h0M393.1 35.4h0M385.3 40.3h0M396.1 37.9h0M389.7 33.6h0M389.1 37.9h0M391.5 36.2h0M394.8 35.2h0M395.7 33.7h0M385.4 38.4h0M390.5 29.8h0M395.9 37.0h0M388.4 37.2h0M389.7 36.9h0M387.5 39.6h0M396.5 31.7h0M388.2 38.7h0M390.5 33.7h0M387.8 37.3h0M386.2 33.8h0M391.4 33.9h0M386.3 34.8h0M396.2 34.0h0M392.6 37.1h0M390.1 37.7h0M391.1 35.8h0M391.6 32.7h0M392.4 37.5h0M392.0 37.1h0M394.9 33.7h0M397.4 32.5h0M398.0 32.3h0M387.3 37.5h0M386.0 39.4h0M388.0 37.5h0M391.5 32.9h0M389.2 32.4h0M397.5 33.7h0M394.1 29.6h0M386.0 35.1h0M392.5 29.4h0M390.2 36.7h0M385.3 39.3h0M385.5 30.2h0M388.9 35.3h0M387.8 35.7h0M392.8 33.3h0M392.2 40.7h0M395.7 33.0h0M388.6 37.7h0M389.3 34.5h0M386.1 39.9h0M390.5 37.1h0M391.1 36.1h0M394.7 30.7h0M386.2 35.9h0M395.5 36.4h0M397.5 29.9h0M387.9 36.2h0M398.2 32.0h0M386.9 37.7h0M397.4 29.5h0M389.0 38.7h0M388.3 37.3h0M390.2 32.2h0M398.7 30.3h0M386.7 31.6h0M385.8 39.8h0M392.3 31.4h0M392.6 39.9h0M394.2 35.0h0M378.6 97.6h0M375.3 44.4h0M375.9 29.8h0M376.3 45.2h0M376.5 60.6h0M376.6 61.1h0M376.2 40.9h0M376.3 45.5h0M378.7 101.4h0M376.1 36.3h0M378.1 87.5h0M375.4 34.6h0M377.1 78.3h0M376.4 52.6h0M376.2 44.6h0M377.1 73.9h0M377.8 87.4h0M379.8 109.8h0M379.4 105.0h0M378.7 96.6h0M376.8 66.7h0M379.6 105.3h0M377.2 74.6h0M378.1 97.0h0M376.2 55.3h0M380.9 116.4h0M377.6 81.9h0M376.0 35.2h0M380.5 115.1h0M378.5 95.9h0M384.8 50.9h0M384.7 53.8h0M382.7 103.0h0M384.9 46.3h0M384.5 76.4h0M382.1 109.0h0M385.2 48.1h0M385.5 32.3h0M385.1 45.6h0M383.6 86.2h0M382.8 100.0h0M382.0 110.7h0M384.5 61.6h0M384.9 42.2h0M382.5 101.7h0M384.7 52.4h0M383.5 89.6h0M382.9 98.3h0M384.1 77.0h0M385.1 37.4h0M385.1 53.0h0M384.9 35.5h0M385.6 30.3h0M382.2 106.3h0M385.2 31.3h0M384.6 58.9h0M383.1 92.8h0M383.0 99.0h0M384.7 45.3h0M380.8 116.1h0M395.6 83.3h0M398.0 88.0h0M393.5 112.8h0M396.5 118.6h0M399.5 121.5h0M363.5 112.0h0M362.5 110.0h0M366.0 118.0h0" stroke="#0d0d0d" stroke-width="1.74" stroke-linecap="round" fill="none"/>
<g fill="none" stroke="#1b8a4c" stroke-width="0.5"><circle cx="327.4" cy="41.4" r="0.58"/><circle cx="343.6" cy="41.0" r="0.58"/><circle cx="342.6" cy="45.0" r="0.58"/><circle cx="342.4" cy="50.0" r="0.58"/><circle cx="348.4" cy="60.0" r="0.58"/><circle cx="348.8" cy="73.0" r="0.58"/><circle cx="349.2" cy="74.5" r="0.58"/><circle cx="348.0" cy="78.0" r="0.58"/><circle cx="347.6" cy="98.6" r="0.58"/><circle cx="356.4" cy="77.4" r="0.58"/><circle cx="356.0" cy="87.0" r="0.58"/><circle cx="357.0" cy="104.0" r="0.58"/><circle cx="358.5" cy="113.0" r="0.58"/><circle cx="359.5" cy="96.0" r="0.58"/><circle cx="359.9" cy="44.7" r="0.58"/><circle cx="355.2" cy="76.3" r="0.58"/><circle cx="353.8" cy="47.6" r="0.58"/><circle cx="361.6" cy="33.3" r="0.58"/><circle cx="359.8" cy="33.2" r="0.58"/><circle cx="352.8" cy="42.1" r="0.58"/><circle cx="353.0" cy="52.3" r="0.58"/><circle cx="359.5" cy="54.4" r="0.58"/><circle cx="361.4" cy="47.0" r="0.58"/><circle cx="359.7" cy="52.7" r="0.58"/><circle cx="353.5" cy="52.1" r="0.58"/><circle cx="361.3" cy="37.7" r="0.58"/><circle cx="361.2" cy="40.3" r="0.58"/><circle cx="350.5" cy="67.0" r="0.58"/><circle cx="360.7" cy="65.1" r="0.58"/><circle cx="357.9" cy="34.0" r="0.58"/><circle cx="360.7" cy="33.5" r="0.58"/><circle cx="360.9" cy="51.8" r="0.58"/><circle cx="358.6" cy="34.6" r="0.58"/><circle cx="353.2" cy="57.1" r="0.58"/><circle cx="359.6" cy="30.2" r="0.58"/><circle cx="358.0" cy="33.6" r="0.58"/><circle cx="359.8" cy="38.3" r="0.58"/><circle cx="356.6" cy="78.5" r="0.58"/><circle cx="361.2" cy="64.2" r="0.58"/><circle cx="356.8" cy="40.1" r="0.58"/><circle cx="358.5" cy="39.9" r="0.58"/><circle cx="358.4" cy="40.2" r="0.58"/><circle cx="360.6" cy="51.4" r="0.58"/><circle cx="357.6" cy="38.3" r="0.58"/><circle cx="357.9" cy="77.4" r="0.58"/><circle cx="353.3" cy="65.0" r="0.58"/><circle cx="350.4" cy="38.9" r="0.58"/><circle cx="360.9" cy="60.3" r="0.58"/><circle cx="361.0" cy="36.6" r="0.58"/></g>
<g fill="none" stroke="#e4533d" stroke-width="0.5"><circle cx="408.0" cy="31.0" r="0.58"/><circle cx="413.0" cy="32.0" r="0.58"/><circle cx="405.0" cy="35.0" r="0.58"/><circle cx="401.0" cy="30.0" r="0.58"/><circle cx="407.6" cy="39.0" r="0.58"/><circle cx="410.0" cy="41.0" r="0.58"/><circle cx="402.4" cy="46.0" r="0.58"/><circle cx="404.0" cy="49.4" r="0.58"/><circle cx="405.6" cy="50.6" r="0.58"/><circle cx="410.0" cy="52.0" r="0.58"/><circle cx="412.6" cy="51.0" r="0.58"/><circle cx="413.6" cy="54.0" r="0.58"/><circle cx="403.0" cy="55.0" r="0.58"/><circle cx="404.4" cy="60.0" r="0.58"/><circle cx="409.6" cy="62.6" r="0.58"/><circle cx="401.0" cy="62.6" r="0.58"/><circle cx="404.0" cy="67.0" r="0.58"/><circle cx="412.4" cy="70.0" r="0.58"/><circle cx="406.0" cy="73.0" r="0.58"/><circle cx="416.6" cy="74.6" r="0.58"/><circle cx="425.4" cy="78.0" r="0.58"/><circle cx="403.0" cy="78.0" r="0.58"/><circle cx="412.0" cy="81.0" r="0.58"/><circle cx="403.0" cy="88.0" r="0.58"/><circle cx="409.0" cy="90.0" r="0.58"/><circle cx="410.0" cy="94.0" r="0.58"/><circle cx="407.0" cy="95.4" r="0.58"/><circle cx="402.0" cy="98.0" r="0.58"/><circle cx="402.4" cy="103.0" r="0.58"/><circle cx="406.0" cy="104.6" r="0.58"/><circle cx="413.0" cy="108.0" r="0.58"/><circle cx="418.4" cy="116.0" r="0.58"/><circle cx="403.0" cy="116.0" r="0.58"/><circle cx="405.6" cy="117.0" r="0.58"/><circle cx="401.6" cy="122.0" r="0.58"/><circle cx="400.8" cy="67.4" r="0.58"/><circle cx="401.8" cy="114.4" r="0.58"/><circle cx="401.0" cy="82.1" r="0.58"/><circle cx="400.9" cy="64.5" r="0.58"/><circle cx="400.4" cy="30.5" r="0.58"/><circle cx="400.4" cy="95.1" r="0.58"/><circle cx="402.3" cy="91.7" r="0.58"/><circle cx="401.0" cy="67.0" r="0.58"/><circle cx="400.2" cy="51.8" r="0.58"/><circle cx="403.0" cy="82.9" r="0.58"/><circle cx="400.9" cy="78.2" r="0.58"/><circle cx="401.2" cy="56.5" r="0.58"/></g>
<rect x="288.3" y="25.3" width="161.3" height="110.6" fill="none" stroke="#444" stroke-width="0.8"/>
<line x1="288.3" y1="25.3" x2="288.3" y2="136.5" stroke="#333" stroke-width="1.4" />
<line x1="287.7" y1="135.9" x2="449.6" y2="135.9" stroke="#333" stroke-width="1.4" />
<line x1="286.1" y1="130.95" x2="288.3" y2="130.95" stroke="#333" stroke-width="0.8" />
<text x="285.1" y="132.75" font-size="5.1" font-family='"Liberation Serif", serif' text-anchor="end" fill="#222" stroke="#222" stroke-width="0.1" >0</text>
<line x1="286.1" y1="118.28" x2="288.3" y2="118.28" stroke="#333" stroke-width="0.8" />
<text x="285.1" y="120.08" font-size="5.1" font-family='"Liberation Serif", serif' text-anchor="end" fill="#222" stroke="#222" stroke-width="0.1" >2</text>
<line x1="286.1" y1="105.6" x2="288.3" y2="105.6" stroke="#333" stroke-width="0.8" />
<text x="285.1" y="107.4" font-size="5.1" font-family='"Liberation Serif", serif' text-anchor="end" fill="#222" stroke="#222" stroke-width="0.1" >4</text>
<line x1="286.1" y1="92.93" x2="288.3" y2="92.93" stroke="#333" stroke-width="0.8" />
<text x="285.1" y="94.73" font-size="5.1" font-family='"Liberation Serif", serif' text-anchor="end" fill="#222" stroke="#222" stroke-width="0.1" >6</text>
<line x1="286.1" y1="80.25" x2="288.3" y2="80.25" stroke="#333" stroke-width="0.8" />
<text x="285.1" y="82.05" font-size="5.1" font-family='"Liberation Serif", serif' text-anchor="end" fill="#222" stroke="#222" stroke-width="0.1" >8</text>
<line x1="286.1" y1="67.58" x2="288.3" y2="67.58" stroke="#333" stroke-width="0.8" />
<text x="285.1" y="69.38" font-size="5.1" font-family='"Liberation Serif", serif' text-anchor="end" fill="#222" stroke="#222" stroke-width="0.1" >10</text>
<line x1="286.1" y1="54.91" x2="288.3" y2="54.91" stroke="#333" stroke-width="0.8" />
<text x="285.1" y="56.71" font-size="5.1" font-family='"Liberation Serif", serif' text-anchor="end" fill="#222" stroke="#222" stroke-width="0.1" >12</text>
<line x1="286.1" y1="42.23" x2="288.3" y2="42.23" stroke="#333" stroke-width="0.8" />
<text x="285.1" y="44.03" font-size="5.1" font-family='"Liberation Serif", serif' text-anchor="end" fill="#222" stroke="#222" stroke-width="0.1" >14</text>
<line x1="286.1" y1="29.56" x2="288.3" y2="29.56" stroke="#333" stroke-width="0.8" />
<text x="285.1" y="31.36" font-size="5.1" font-family='"Liberation Serif", serif' text-anchor="end" fill="#222" stroke="#222" stroke-width="0.1" >16</text>
<line x1="299.55" y1="135.9" x2="299.55" y2="138.1" stroke="#333" stroke-width="0.8" />
<text x="299.55" y="143.2" font-size="5.1" font-family='"Liberation Serif", serif' text-anchor="middle" fill="#222" stroke="#222" stroke-width="0.1" >−2.5</text>
<line x1="315.83" y1="135.9" x2="315.83" y2="138.1" stroke="#333" stroke-width="0.8" />
<text x="315.83" y="143.2" font-size="5.1" font-family='"Liberation Serif", serif' text-anchor="middle" fill="#222" stroke="#222" stroke-width="0.1" >−2.0</text>
<line x1="332.12" y1="135.9" x2="332.12" y2="138.1" stroke="#333" stroke-width="0.8" />
<text x="332.12" y="143.2" font-size="5.1" font-family='"Liberation Serif", serif' text-anchor="middle" fill="#222" stroke="#222" stroke-width="0.1" >−1.5</text>
<line x1="348.41" y1="135.9" x2="348.41" y2="138.1" stroke="#333" stroke-width="0.8" />
<text x="348.41" y="143.2" font-size="5.1" font-family='"Liberation Serif", serif' text-anchor="middle" fill="#222" stroke="#222" stroke-width="0.1" >−1.0</text>
<line x1="364.69" y1="135.9" x2="364.69" y2="138.1" stroke="#333" stroke-width="0.8" />
<text x="364.69" y="143.2" font-size="5.1" font-family='"Liberation Serif", serif' text-anchor="middle" fill="#222" stroke="#222" stroke-width="0.1" >−0.5</text>
<line x1="380.98" y1="135.9" x2="380.98" y2="138.1" stroke="#333" stroke-width="0.8" />
<text x="380.98" y="143.2" font-size="5.1" font-family='"Liberation Serif", serif' text-anchor="middle" fill="#222" stroke="#222" stroke-width="0.1" >0.0</text>
<line x1="397.27" y1="135.9" x2="397.27" y2="138.1" stroke="#333" stroke-width="0.8" />
<text x="397.27" y="143.2" font-size="5.1" font-family='"Liberation Serif", serif' text-anchor="middle" fill="#222" stroke="#222" stroke-width="0.1" >0.5</text>
<line x1="413.55" y1="135.9" x2="413.55" y2="138.1" stroke="#333" stroke-width="0.8" />
<text x="413.55" y="143.2" font-size="5.1" font-family='"Liberation Serif", serif' text-anchor="middle" fill="#222" stroke="#222" stroke-width="0.1" >1.0</text>
<line x1="429.84" y1="135.9" x2="429.84" y2="138.1" stroke="#333" stroke-width="0.8" />
<text x="429.84" y="143.2" font-size="5.1" font-family='"Liberation Serif", serif' text-anchor="middle" fill="#222" stroke="#222" stroke-width="0.1" >1.5</text>
<line x1="446.13" y1="135.9" x2="446.13" y2="138.1" stroke="#333" stroke-width="0.8" />
<text x="446.13" y="143.2" font-size="5.1" font-family='"Liberation Serif", serif' text-anchor="middle" fill="#222" stroke="#222" stroke-width="0.1" >2.0</text>
<text x="368.95" y="148.9" font-size="5.1" font-family='"Liberation Serif", serif' text-anchor="middle" fill="#222" stroke="#222" stroke-width="0.1" >log2(FoldChange)</text>
<text x="0" y="0" font-size="5.1" font-family='"Liberation Serif", serif' text-anchor="middle" fill="#222" stroke="#222" stroke-width="0.1" transform="translate(277.3,75.7) rotate(-90)">-log10(pvalue)</text>
<text x="454" y="31.2" font-size="5.1" font-family='"Liberation Serif", serif' text-anchor="start" fill="#222" stroke="#222" stroke-width="0.1" >Regulated</text>
<polygon points="454.2,38.3 459,38.3 456.6,33.9" fill="#e0402a" />
<text x="461" y="38.8" font-size="5.1" font-family='"Liberation Serif", serif' text-anchor="start" fill="#222" stroke="#222" stroke-width="0.1" >Up-regulated</text>
<polygon points="454.2,42.5 459,42.5 456.6,46.9" fill="#0b7a3e" />
<text x="461" y="47.1" font-size="5.1" font-family='"Liberation Serif", serif' text-anchor="start" fill="#222" stroke="#222" stroke-width="0.1" >Down-regulated</text>
<line x1="47.53" y1="176.6" x2="47.53" y2="287.3" stroke="#ebebeb" stroke-width="0.6" />
<line x1="71.15" y1="176.6" x2="71.15" y2="287.3" stroke="#ebebeb" stroke-width="0.6" />
<line x1="94.78" y1="176.6" x2="94.78" y2="287.3" stroke="#ebebeb" stroke-width="0.6" />
<line x1="118.4" y1="176.6" x2="118.4" y2="287.3" stroke="#ebebeb" stroke-width="0.6" />
<line x1="142.03" y1="176.6" x2="142.03" y2="287.3" stroke="#ebebeb" stroke-width="0.6" />
<line x1="165.65" y1="176.6" x2="165.65" y2="287.3" stroke="#ebebeb" stroke-width="0.6" />
<line x1="189.28" y1="176.6" x2="189.28" y2="287.3" stroke="#ebebeb" stroke-width="0.6" />
<line x1="31.5" y1="283.08" x2="194.5" y2="283.08" stroke="#ebebeb" stroke-width="0.6" />
<line x1="31.5" y1="269.42" x2="194.5" y2="269.42" stroke="#ebebeb" stroke-width="0.6" />
<line x1="31.5" y1="255.76" x2="194.5" y2="255.76" stroke="#ebebeb" stroke-width="0.6" />
<line x1="31.5" y1="242.1" x2="194.5" y2="242.1" stroke="#ebebeb" stroke-width="0.6" />
<line x1="31.5" y1="228.44" x2="194.5" y2="228.44" stroke="#ebebeb" stroke-width="0.6" />
<line x1="31.5" y1="214.78" x2="194.5" y2="214.78" stroke="#ebebeb" stroke-width="0.6" />
<line x1="31.5" y1="201.12" x2="194.5" y2="201.12" stroke="#ebebeb" stroke-width="0.6" />
<line x1="31.5" y1="187.46" x2="194.5" y2="187.46" stroke="#ebebeb" stroke-width="0.6" />
<line x1="90.76" y1="176.6" x2="90.76" y2="287.3" stroke="#e2e9f6" stroke-width="0.9" />
<line x1="146.04" y1="176.6" x2="146.04" y2="287.3" stroke="#e2e9f6" stroke-width="0.9" />
<line x1="31.5" y1="265.31" x2="194.5" y2="265.31" stroke="#e2e9f6" stroke-width="0.9" />
<g stroke-dasharray="1.0,1.05" fill="none">
<line x1="90.76" y1="176.6" x2="90.76" y2="287.3" stroke="#8c9fd6" stroke-width="0.75" />
<line x1="146.04" y1="176.6" x2="146.04" y2="287.3" stroke="#8c9fd6" stroke-width="0.75" />
<line x1="31.5" y1="265.31" x2="194.5" y2="265.31" stroke="#8c9fd6" stroke-width="0.75" />
</g>
<polygon points="100,238 110,238 113.2,254.5 117.4,275.4 118.5,281 121.6,262.9 125.8,244 127.4,234 138,234 142,242 143,252 140,264 135,274 127,281.5 118.5,283.3 109,281.5 102,275 98,264 96.5,250 97.5,241" fill="#000"/>
<path d="M140.6 274.6h0M91.5 238.1h0M93.8 226.5h0M96.5 249.9h0M140.3 257.6h0M135.9 263.2h0M141.1 229.3h0M97.5 278.1h0M138.2 222.1h0M104.5 249.1h0M108.0 279.9h0M108.3 257.1h0M145.9 255.5h0M126.0 245.1h0M112.4 263.6h0M102.2 243.4h0M97.7 229.9h0M134.9 219.4h0M134.4 274.1h0M101.0 255.7h0M145.4 266.6h0M131.9 223.9h0M116.1 271.4h0M100.3 238.6h0M101.5 226.2h0M142.9 240.0h0M92.7 243.0h0M97.2 239.3h0M110.3 261.4h0M103.5 252.4h0M129.7 238.6h0M129.8 234.6h0M97.3 250.4h0M139.9 277.7h0M105.3 246.7h0M109.9 254.1h0M121.0 274.5h0M129.0 225.4h0M145.9 251.4h0M108.3 256.1h0M136.2 256.7h0M129.6 266.3h0M140.1 264.1h0M95.0 245.0h0M101.2 244.0h0M107.5 255.8h0M106.4 256.9h0M144.7 257.8h0M142.7 266.0h0M102.4 271.1h0M138.1 219.2h0M105.1 260.7h0M145.3 254.6h0M123.6 276.9h0M144.1 239.6h0M92.4 226.5h0M91.4 236.3h0M97.1 248.9h0M93.8 224.3h0M140.2 251.4h0M132.3 237.5h0M111.4 246.1h0M127.1 236.9h0M125.5 273.5h0M126.8 244.1h0M91.4 229.8h0M125.7 277.7h0M139.8 240.6h0M131.5 229.5h0M145.4 236.4h0M91.3 247.9h0M109.3 267.5h0M142.5 247.8h0M105.4 218.9h0M91.2 241.6h0M99.6 257.9h0M108.2 281.4h0M112.6 262.9h0M95.7 272.9h0M104.7 266.4h0M112.2 261.4h0M137.4 270.7h0M98.8 242.6h0M92.9 258.8h0M95.3 244.4h0M109.2 238.8h0M131.6 271.9h0M134.0 224.4h0M139.0 275.9h0M133.7 260.7h0M115.3 279.9h0M122.4 282.8h0M133.4 245.7h0M101.5 245.9h0M105.6 278.9h0M143.5 241.3h0M100.7 232.6h0M130.0 281.5h0M98.8 261.7h0M96.6 231.1h0M99.2 259.8h0M91.9 258.3h0M139.7 239.3h0M99.5 277.0h0M127.3 244.4h0M122.4 267.7h0M146.0 260.2h0M102.8 273.6h0M132.3 260.3h0M136.8 259.7h0M133.1 264.2h0M111.2 278.6h0M103.4 236.4h0M131.6 269.9h0M108.7 248.3h0M99.3 270.7h0M103.8 262.6h0M125.0 278.2h0M103.4 239.3h0M111.9 265.4h0M130.3 249.4h0M126.7 271.3h0M104.8 253.8h0M102.6 259.4h0M131.8 247.3h0M135.6 277.3h0M95.3 244.4h0M128.1 238.7h0M142.4 273.0h0M93.7 256.4h0M126.8 243.0h0M132.4 241.7h0M105.6 246.4h0M125.9 262.3h0M133.3 248.5h0M97.7 252.1h0M107.2 272.1h0M134.9 265.7h0M100.0 266.9h0M139.1 261.6h0M133.4 259.7h0M143.0 223.8h0M138.1 243.4h0M144.5 252.4h0M94.9 254.9h0M94.6 262.6h0M101.4 268.2h0M105.6 237.3h0M146.1 245.6h0M127.8 257.0h0M112.1 268.6h0M141.7 265.2h0M112.0 249.6h0M133.3 249.2h0M128.1 267.5h0M103.5 233.9h0M140.1 249.2h0M94.2 240.7h0M99.6 278.3h0M111.2 265.6h0M140.3 251.4h0M114.5 269.9h0M128.6 238.5h0M125.3 281.9h0M103.3 255.7h0M110.4 267.2h0M97.9 233.3h0M138.3 274.5h0M116.5 281.4h0M141.7 267.1h0M131.2 270.0h0M97.1 255.5h0M111.5 251.7h0M146.0 270.1h0M127.8 273.1h0M127.3 280.3h0M122.7 269.2h0M123.9 271.2h0M140.6 258.9h0M93.7 240.2h0M105.9 253.9h0M137.1 255.9h0M131.2 250.0h0M140.6 224.5h0M140.2 277.0h0M133.8 265.1h0M111.8 260.3h0M134.3 237.4h0M91.2 218.1h0M129.8 276.8h0M132.8 253.0h0M104.9 248.4h0M100.2 234.1h0M96.9 278.0h0M129.1 231.1h0M127.7 236.5h0M101.6 254.5h0M95.8 243.5h0M107.2 262.7h0M124.4 282.6h0M103.0 226.8h0M135.8 264.6h0M133.3 253.2h0M91.2 272.0h0M137.9 270.8h0M93.9 218.9h0M91.7 260.7h0M129.9 259.6h0M92.7 247.8h0M109.9 272.7h0M97.3 258.3h0M122.3 280.0h0M107.5 224.5h0M104.8 248.7h0M109.0 267.7h0M132.4 272.8h0M136.3 250.7h0M107.3 222.2h0M135.7 249.6h0M127.0 261.4h0M100.6 230.3h0M101.8 253.7h0M115.3 269.6h0M110.3 242.8h0M134.8 231.0h0M102.3 240.9h0M101.3 243.8h0M96.7 273.0h0M94.0 224.1h0M111.8 275.5h0M134.3 278.0h0M137.9 230.7h0M92.2 219.6h0M108.5 267.1h0M134.8 243.5h0M130.2 239.3h0M101.2 248.5h0M132.1 279.9h0M125.7 257.2h0M130.5 268.6h0M132.9 258.2h0M92.6 255.0h0M130.6 279.4h0M141.7 259.7h0M138.5 275.1h0M131.5 229.8h0M133.3 227.8h0M107.9 258.6h0M130.2 223.2h0M102.1 238.3h0M140.1 258.2h0M142.8 250.0h0M144.4 266.6h0M130.6 264.9h0M98.6 236.1h0M97.0 247.7h0M123.1 279.7h0M104.6 218.3h0M108.4 256.0h0M139.3 265.9h0M137.3 270.6h0M126.7 251.3h0M95.9 255.7h0M102.3 279.6h0M132.8 274.7h0M95.8 258.6h0M130.7 280.3h0M113.2 261.9h0M103.1 238.9h0M135.7 269.0h0M100.4 241.0h0M125.2 249.4h0M139.5 237.2h0M133.6 218.5h0M135.8 257.9h0M126.3 279.2h0M100.0 246.0h0M97.5 258.2h0M143.4 233.4h0M130.6 275.5h0M106.7 234.2h0M92.3 273.8h0M128.1 233.5h0M98.0 248.3h0M132.6 249.5h0M117.4 281.3h0M91.8 238.2h0M99.8 231.5h0M93.6 259.4h0M129.7 258.1h0M136.4 245.4h0M97.7 253.7h0M91.3 242.5h0M144.0 226.1h0M105.3 275.8h0M99.2 243.4h0M139.1 268.8h0M129.5 259.1h0M100.3 272.9h0M131.1 221.9h0M97.7 270.5h0M135.8 242.7h0M96.3 267.5h0M134.8 229.1h0M111.9 250.5h0M133.4 272.9h0M143.1 218.4h0M101.8 277.2h0M106.8 218.2h0M112.7 254.6h0M136.7 238.1h0M105.8 279.9h0M138.9 253.4h0M106.3 240.4h0M101.1 265.2h0M130.4 243.4h0M129.2 231.6h0M112.4 273.1h0M100.8 219.8h0M135.7 257.3h0M103.1 279.1h0M136.2 247.6h0M103.1 228.2h0M116.9 273.0h0M135.7 266.3h0M120.7 274.5h0M105.2 268.6h0M103.2 247.3h0M131.7 232.8h0M133.0 258.1h0M101.2 228.2h0M95.7 225.5h0M137.9 224.1h0M131.7 276.1h0M102.7 246.0h0M143.0 226.2h0M116.1 276.0h0M145.1 262.6h0M111.9 257.4h0M109.3 266.7h0M103.8 239.9h0M115.6 283.1h0M97.9 277.0h0M113.7 281.1h0M127.1 250.1h0M139.1 240.5h0M101.9 239.7h0M97.9 240.1h0M94.7 263.6h0M133.1 233.1h0M133.8 238.1h0M104.7 279.0h0M140.2 269.4h0M99.0 223.5h0M107.7 226.0h0M107.3 241.2h0M135.8 239.6h0M128.6 251.1h0M139.6 233.6h0M113.8 280.2h0M112.1 277.6h0M131.4 241.2h0M98.3 226.7h0M99.2 237.8h0M134.7 234.4h0M104.7 225.8h0M130.4 235.5h0M122.5 267.9h0M137.0 245.4h0M139.8 240.4h0M97.5 275.3h0M100.0 243.8h0M134.1 256.3h0M128.7 258.6h0M92.3 271.6h0M104.2 224.7h0M96.1 235.4h0M97.1 267.2h0M101.9 274.8h0M143.2 225.1h0M137.7 277.4h0M124.0 263.0h0M113.2 260.1h0M138.7 265.7h0M134.3 245.1h0M104.0 264.5h0M146.0 221.3h0M106.9 222.2h0M133.9 253.2h0M128.6 267.9h0M138.7 243.2h0M130.7 223.0h0M124.3 256.2h0M137.8 230.6h0M110.8 260.8h0M136.0 278.2h0M94.3 234.6h0M112.0 281.0h0M126.6 276.6h0M131.7 239.1h0M132.7 235.7h0M110.4 242.6h0M138.7 263.5h0M144.1 244.3h0M121.4 269.8h0M142.7 265.3h0M103.3 226.3h0M109.9 249.2h0M131.2 222.7h0M124.0 259.9h0M138.7 263.6h0M143.3 262.4h0M104.3 265.0h0M122.9 272.4h0M136.2 278.2h0M96.6 272.2h0M121.7 272.3h0M130.0 271.4h0M103.9 266.7h0M105.3 264.6h0M136.5 240.9h0M92.1 245.9h0M146.2 239.3h0M106.3 230.2h0M100.7 234.0h0M104.8 250.1h0M95.5 252.3h0M101.9 226.2h0M97.7 249.3h0M137.6 278.7h0M135.0 252.5h0M140.9 255.9h0M142.7 237.7h0M91.2 260.4h0M107.3 236.5h0M128.9 263.4h0M134.9 260.8h0M122.7 269.0h0M97.2 274.4h0M134.5 278.2h0M111.4 274.0h0M100.6 230.5h0M94.8 247.5h0M131.3 278.5h0M133.5 271.3h0M92.7 222.3h0M121.1 267.1h0M125.8 260.5h0M110.6 242.4h0M132.3 262.8h0M110.6 262.4h0M101.5 257.5h0M101.2 251.3h0M112.3 265.2h0M108.8 254.9h0M145.6 218.3h0M126.8 257.9h0M129.7 253.8h0M114.0 278.2h0M99.1 239.7h0M136.0 243.1h0M123.2 265.0h0M108.8 245.2h0M100.9 274.2h0M126.1 242.3h0M91.7 242.6h0M115.5 268.6h0M138.9 248.6h0M96.4 230.9h0M133.6 256.0h0M122.9 273.2h0M143.2 229.7h0M136.5 267.4h0M135.0 263.3h0M127.9 274.8h0M103.6 262.2h0M108.7 258.8h0M128.2 257.2h0M141.1 230.5h0M115.9 271.6h0M129.2 251.3h0M90.9 272.7h0M131.4 260.6h0M121.1 280.0h0M135.6 235.4h0M101.0 266.5h0M112.9 275.2h0M131.1 266.4h0M110.0 243.4h0M100.4 258.6h0M102.6 252.1h0M109.2 242.2h0M108.3 250.7h0M95.0 267.5h0M90.9 243.0h0M131.9 226.6h0M128.4 279.4h0M133.1 229.4h0M121.6 281.6h0M134.6 272.5h0M110.1 268.5h0M107.7 268.7h0M107.0 248.8h0M130.8 280.1h0M111.8 277.8h0M132.2 225.1h0M139.6 268.2h0M140.1 265.1h0M129.7 279.3h0M110.9 272.1h0M102.3 245.0h0M130.7 258.0h0M136.2 247.0h0M103.1 266.0h0M104.6 277.9h0M141.6 252.9h0M94.6 259.2h0M139.6 274.8h0M119.6 275.3h0M143.4 248.9h0M130.3 252.0h0M105.9 276.5h0M103.5 252.0h0M95.4 231.9h0M128.2 234.4h0M104.1 277.5h0M105.9 228.3h0M127.0 254.3h0M114.8 270.8h0M128.2 281.9h0M125.5 264.9h0M132.6 245.1h0M96.1 243.7h0M125.7 266.3h0M121.8 282.2h0M128.8 228.6h0M94.1 239.9h0M136.9 237.7h0M97.3 246.2h0M97.7 227.8h0M104.4 276.6h0M134.9 261.8h0M108.1 233.8h0M108.5 279.9h0M100.2 256.8h0M145.9 261.9h0M114.6 276.2h0M134.3 248.2h0M126.9 248.1h0M109.0 253.2h0M139.5 274.3h0M130.6 261.8h0M136.6 261.7h0M127.3 242.4h0M125.8 268.7h0M106.4 242.3h0M103.2 256.6h0M125.3 247.5h0M107.9 235.4h0M96.3 269.0h0M105.5 237.8h0M143.1 238.1h0M133.7 277.3h0M132.2 266.2h0M124.3 274.9h0M137.3 277.7h0M106.9 257.3h0M93.8 233.4h0M138.4 246.1h0M140.9 274.2h0M126.5 273.5h0M116.9 283.1h0M102.5 235.5h0M140.4 248.7h0M133.2 276.8h0M139.3 275.5h0M112.1 255.3h0M114.8 268.7h0M103.9 231.9h0M142.4 260.7h0M98.1 245.5h0M103.2 264.0h0M100.5 267.4h0M141.0 239.9h0M128.7 252.1h0M142.2 232.6h0M95.2 267.6h0M137.6 236.9h0M93.6 236.4h0M145.3 226.9h0M145.1 251.1h0M101.5 226.1h0M108.9 270.1h0M146.2 225.1h0M133.0 260.8h0M111.4 268.1h0M130.8 257.8h0M124.5 270.9h0M100.3 258.8h0M100.2 262.3h0M143.3 219.7h0M131.5 267.2h0M112.8 256.9h0M105.4 259.6h0M113.5 255.9h0M107.8 227.3h0M104.9 270.6h0M127.6 254.1h0M106.2 263.6h0M132.9 276.4h0M142.8 242.3h0M126.7 252.3h0M131.2 272.8h0M102.3 234.4h0M132.5 258.9h0M102.4 240.0h0M106.1 261.7h0M107.6 271.2h0M137.4 245.8h0M97.7 230.7h0M117.0 277.2h0M99.4 248.6h0M126.0 271.0h0M132.5 276.7h0M120.3 282.6h0M131.1 249.0h0M111.9 277.8h0M137.8 230.4h0M104.7 270.0h0M139.2 259.4h0M100.4 238.0h0M107.2 234.3h0M99.4 239.1h0M110.1 280.8h0M103.9 261.4h0M140.1 245.7h0M125.2 268.0h0M103.4 221.6h0M107.2 249.8h0M108.3 250.4h0M134.4 235.6h0M127.7 266.3h0M137.5 263.5h0M141.1 259.6h0M99.2 258.9h0M137.7 245.8h0M125.8 265.7h0M109.8 279.6h0M97.1 254.3h0M126.4 240.7h0M108.8 275.7h0M138.0 236.0h0M141.7 266.2h0M102.5 255.5h0M103.3 233.8h0M94.5 219.0h0M129.8 268.6h0M133.0 252.6h0M128.8 229.9h0M101.3 258.1h0M134.7 253.5h0M105.3 244.5h0M130.6 280.3h0M128.7 264.6h0M98.3 265.1h0M109.0 240.5h0M106.7 280.3h0M129.6 251.6h0M125.2 258.1h0M134.4 224.5h0M116.5 275.0h0M115.6 282.5h0M103.2 244.2h0M100.6 278.2h0M107.5 234.9h0M139.2 268.8h0M107.6 262.7h0M95.5 238.2h0M112.9 279.9h0M138.8 240.9h0M142.7 274.6h0M116.2 271.8h0M119.7 283.7h0M144.1 248.6h0M138.9 276.6h0M136.7 272.4h0M107.3 273.8h0M135.8 279.0h0M112.5 263.5h0M133.1 249.3h0M131.8 234.5h0M108.4 241.7h0M105.2 253.2h0M141.7 243.8h0M100.6 222.5h0M110.4 269.1h0M102.7 269.2h0M105.3 270.5h0M127.9 268.7h0M134.8 271.5h0M93.4 272.4h0M120.4 278.0h0M139.1 272.1h0M135.6 261.0h0M107.3 255.2h0M139.0 246.0h0M107.2 227.6h0M99.5 237.3h0M93.3 274.1h0M132.2 279.2h0M96.8 225.5h0M131.7 270.2h0M108.6 248.1h0M101.5 266.9h0M133.7 256.6h0M106.2 271.5h0M123.5 267.1h0M134.7 266.3h0M133.4 249.7h0M136.7 274.1h0M145.1 248.4h0M128.5 243.5h0M109.4 237.1h0M102.9 278.8h0M144.2 231.8h0M94.3 227.5h0M100.3 225.4h0M139.5 253.8h0M108.7 256.6h0M137.2 270.8h0M145.3 219.0h0M103.2 279.0h0M131.4 240.6h0M126.2 269.1h0M102.1 276.5h0M113.3 267.4h0M103.3 243.1h0M100.8 274.2h0M138.7 238.0h0M124.6 273.9h0M109.5 241.4h0M93.2 224.8h0M97.4 225.6h0M143.3 240.1h0M130.5 229.6h0M105.1 260.7h0M120.4 277.1h0M111.7 263.9h0M105.5 276.0h0M103.5 223.7h0M137.5 219.0h0M139.0 256.3h0M104.2 280.2h0M131.7 253.3h0M144.7 234.3h0M115.8 278.0h0M135.3 268.8h0M128.3 266.9h0M92.2 255.2h0M138.1 248.6h0M128.8 271.3h0M141.6 269.1h0M109.0 253.3h0M135.9 233.4h0M123.4 274.1h0M92.4 245.1h0M140.1 246.6h0M123.6 260.2h0M142.0 273.7h0M128.1 279.8h0M95.8 222.1h0M94.7 265.0h0M111.1 259.3h0M141.5 218.6h0M102.0 277.9h0M129.5 238.0h0M142.1 266.6h0M94.2 268.6h0M119.1 279.2h0M140.5 243.4h0M108.2 263.5h0M93.7 227.2h0M127.0 274.5h0M143.0 222.7h0M91.7 233.5h0M107.4 266.4h0M100.1 228.6h0M127.0 272.8h0M93.2 245.2h0M138.8 218.7h0M104.8 254.5h0M131.7 264.3h0M126.7 265.7h0M128.5 237.3h0M108.2 235.4h0M122.9 277.7h0M91.5 218.2h0M102.6 241.3h0M141.0 224.5h0M136.6 260.9h0M139.5 237.5h0M134.7 241.0h0M133.0 273.0h0M94.6 245.9h0M93.4 223.5h0M100.6 272.5h0M128.8 255.3h0M134.4 246.6h0M102.6 267.4h0M142.3 235.5h0M131.2 261.7h0M91.4 230.5h0M108.5 240.1h0M93.1 226.2h0M106.2 229.3h0M111.1 257.1h0M107.1 260.7h0M130.4 230.9h0M126.0 273.4h0M106.6 245.0h0M102.3 250.7h0M109.0 242.9h0M101.0 258.5h0M130.5 226.2h0M114.6 279.1h0M106.6 222.1h0M113.3 266.5h0M138.8 249.0h0M137.0 224.3h0M141.8 265.4h0M111.6 257.2h0M144.2 220.3h0M129.4 275.5h0M107.3 267.4h0M123.6 259.4h0M136.2 246.2h0M120.2 278.1h0M101.4 223.3h0M124.3 259.2h0M136.6 237.4h0M144.4 223.5h0M145.0 225.3h0M139.0 232.9h0M102.9 264.1h0M127.5 261.0h0M101.0 236.1h0M103.2 265.1h0M97.9 267.6h0M136.4 259.6h0M110.8 277.7h0M93.3 252.9h0M127.4 263.6h0M142.9 248.8h0M112.1 270.6h0M106.5 235.9h0M135.8 228.0h0M110.2 276.6h0M137.1 236.0h0M92.9 249.1h0M145.9 220.0h0M103.8 222.4h0M137.6 247.8h0M126.0 254.6h0M134.5 278.6h0M143.7 259.0h0M139.7 278.1h0M141.7 227.4h0M123.8 270.1h0M113.2 261.7h0M143.1 264.1h0M93.6 266.9h0M109.7 267.3h0M133.1 277.0h0M111.3 259.3h0M92.5 274.4h0M108.8 265.7h0M125.5 278.1h0M101.1 244.7h0M104.3 254.9h0M142.0 238.2h0M139.5 272.6h0M105.2 251.2h0M145.8 219.1h0M140.3 258.4h0M130.8 233.0h0M139.7 252.2h0M93.0 259.9h0M102.8 244.4h0M103.1 224.6h0M91.6 267.0h0M124.6 269.0h0M120.8 278.1h0M126.2 264.1h0M96.8 257.9h0M98.7 244.5h0M106.7 245.0h0M145.3 270.0h0M105.0 242.1h0M98.2 250.8h0M100.7 251.4h0M102.6 271.7h0M127.6 256.2h0M105.8 236.4h0M130.3 233.7h0M128.7 226.8h0M129.4 226.2h0M94.3 246.4h0M93.4 245.1h0M91.1 251.9h0M138.8 243.9h0M98.9 268.7h0M107.7 230.1h0M133.0 263.6h0M108.4 281.6h0M112.2 261.0h0M133.8 244.4h0M141.6 248.9h0M128.5 241.3h0M130.4 244.2h0M134.3 274.1h0M110.3 258.6h0M99.5 244.5h0M129.2 235.2h0M106.6 242.9h0M125.3 267.7h0M140.4 261.9h0M120.9 268.4h0M130.0 247.4h0M129.0 265.4h0M92.1 247.2h0M132.2 229.8h0M131.0 271.8h0M108.0 232.4h0M113.0 269.2h0M140.7 240.5h0M127.6 246.6h0M140.5 229.6h0M104.7 253.5h0M103.7 223.0h0M108.0 230.9h0M110.0 247.6h0M131.8 252.4h0M110.5 253.3h0M107.8 242.7h0M103.8 242.6h0M123.8 276.0h0M107.6 258.3h0M108.9 247.0h0M102.2 237.7h0M122.7 277.1h0M106.6 247.6h0M101.2 238.5h0M98.3 246.5h0M125.1 256.7h0M95.5 253.4h0M99.1 224.1h0M104.9 249.7h0M101.0 230.0h0M95.0 269.2h0M114.3 273.2h0M113.6 276.8h0M128.4 272.8h0M131.3 222.9h0M98.8 275.2h0M112.9 270.8h0M91.4 268.1h0M133.5 234.1h0M137.7 249.9h0M101.2 275.2h0M114.8 282.2h0M127.9 278.8h0M98.1 235.5h0M139.1 277.1h0M129.6 235.7h0M106.4 245.9h0M113.1 271.3h0M130.1 224.6h0M103.3 224.8h0M98.8 222.8h0M123.9 277.5h0M138.1 242.0h0M112.0 280.0h0M98.0 257.3h0M121.4 283.0h0M93.7 228.7h0M95.1 232.0h0M128.6 266.6h0M129.7 250.2h0M93.4 237.1h0M107.1 264.0h0M140.3 272.1h0M125.9 245.7h0M130.4 278.0h0M130.7 240.6h0M100.2 252.6h0M107.3 244.2h0M109.6 237.5h0M130.9 278.4h0M103.7 242.5h0M139.5 243.4h0M105.1 241.8h0M108.0 234.1h0M123.0 259.5h0M102.9 277.8h0M100.4 246.2h0M139.2 271.7h0M135.8 277.8h0M100.4 275.2h0M134.0 244.0h0M110.0 263.9h0M129.0 254.0h0M129.0 265.3h0M125.7 249.4h0M105.2 254.8h0M126.8 245.7h0M94.5 241.2h0M141.8 253.9h0M138.5 256.9h0M110.0 271.1h0M137.0 227.0h0M95.4 228.6h0M97.8 259.2h0M130.1 243.1h0M117.2 276.1h0M107.8 230.0h0M112.8 282.2h0M136.8 266.5h0M127.0 281.4h0M124.7 262.3h0M128.0 231.4h0M141.5 218.4h0M136.3 263.1h0M132.1 229.5h0M133.1 257.0h0M105.8 246.4h0M96.9 260.5h0M108.4 265.4h0M128.2 275.7h0M131.5 262.7h0M136.0 250.4h0M134.5 271.7h0M106.4 268.5h0M110.1 272.9h0M112.8 273.0h0M101.9 251.4h0M128.7 268.1h0M100.5 260.4h0M96.1 224.2h0M135.5 250.4h0M102.7 225.8h0M123.3 273.1h0M137.1 272.6h0M134.6 239.6h0M118.1 279.9h0M118.6 281.2h0M115.7 267.0h0M145.0 255.0h0M103.7 240.6h0M134.8 222.2h0M95.8 263.6h0M145.1 221.6h0M134.8 259.3h0M135.4 220.1h0M145.7 270.4h0M144.3 249.2h0M106.5 275.5h0M106.9 225.5h0M109.0 278.6h0M125.5 262.1h0M124.2 265.5h0M142.4 240.7h0M106.0 240.7h0M130.2 229.8h0M113.6 265.0h0M112.2 273.0h0M129.4 274.4h0M109.7 260.9h0M139.1 248.1h0M138.3 229.8h0M102.2 236.5h0M101.5 254.5h0M99.5 225.0h0M135.5 247.8h0M108.2 253.5h0M128.1 269.4h0M104.8 264.7h0M113.0 271.4h0M92.5 228.3h0M100.2 237.8h0M122.5 278.9h0M91.0 270.6h0M104.1 280.1h0M125.5 247.1h0M92.1 274.6h0M112.6 280.0h0M94.7 262.9h0M103.1 274.7h0M138.9 223.6h0M131.1 239.7h0M103.7 278.0h0M101.8 271.9h0M114.0 274.1h0M96.9 245.9h0M140.9 220.9h0M110.4 245.0h0M139.2 244.9h0M137.6 233.8h0M134.1 255.8h0M97.5 262.9h0M110.9 278.6h0M109.7 265.9h0M95.5 272.3h0M125.8 276.6h0M127.9 256.1h0M95.4 227.7h0M138.5 272.6h0M142.8 232.4h0M108.3 279.2h0M116.5 277.4h0M97.0 262.0h0M130.7 226.4h0M130.5 262.9h0M92.9 229.0h0M107.7 264.3h0M102.8 245.1h0M101.1 256.8h0M103.1 276.1h0M134.6 265.8h0M103.1 223.6h0M135.1 277.9h0M109.6 251.3h0M112.1 277.9h0M100.8 268.5h0M138.4 264.2h0M103.8 233.1h0M113.8 267.0h0M98.2 275.9h0M124.8 279.7h0M122.7 259.0h0M107.9 252.4h0M99.8 268.7h0M128.1 234.6h0M131.3 231.7h0M123.4 278.3h0M108.2 238.7h0M140.7 259.0h0M145.4 250.7h0M123.3 273.4h0M142.0 270.6h0M98.8 253.5h0M134.2 263.9h0M97.7 267.4h0M143.0 235.6h0M139.3 235.0h0M104.6 227.6h0M127.4 261.9h0M98.4 233.3h0M98.4 255.8h0M96.4 273.9h0M131.3 246.1h0M96.2 231.5h0M91.3 235.8h0M100.7 233.4h0M136.9 274.0h0M100.7 246.4h0M95.1 243.0h0M109.4 258.9h0M91.0 235.1h0M127.2 269.5h0M141.4 234.9h0M136.0 226.3h0M138.5 249.4h0M133.9 247.2h0M132.8 275.8h0M133.0 273.6h0M113.4 256.6h0M92.2 264.9h0M144.8 252.6h0M94.9 230.6h0M98.3 240.0h0M125.5 245.7h0M143.7 231.2h0M129.6 239.8h0M144.5 256.8h0M116.0 272.5h0M135.0 264.9h0M122.3 275.6h0M93.7 233.3h0M135.2 233.8h0M94.9 238.8h0M114.1 272.3h0M128.7 248.9h0M104.4 260.8h0M98.9 226.8h0M106.3 263.8h0M109.4 266.4h0M129.8 265.4h0M104.0 238.6h0M100.5 256.2h0M134.5 243.7h0M126.4 256.1h0M95.6 225.9h0M125.8 274.5h0M105.7 278.6h0M110.2 281.0h0M134.4 242.3h0M135.7 272.5h0M96.8 276.7h0M123.3 260.3h0M130.1 240.8h0M140.9 228.1h0M97.4 239.4h0M104.3 280.3h0M107.8 246.9h0M141.7 244.7h0M104.9 257.9h0M92.6 220.0h0M132.8 225.8h0M94.6 266.1h0M109.6 279.1h0M100.4 251.1h0M103.8 261.1h0M104.1 260.8h0M107.2 239.7h0M134.1 244.1h0M106.5 238.5h0M114.2 274.0h0M138.3 266.7h0M139.2 231.2h0M91.4 261.6h0M95.5 248.3h0M123.3 273.2h0M92.9 256.8h0M122.5 262.1h0M107.1 279.5h0M100.2 258.5h0M143.2 231.2h0M96.0 242.8h0M102.1 243.6h0M118.2 279.8h0M101.3 277.3h0M134.3 243.2h0M103.5 270.9h0M103.6 228.6h0M138.1 241.5h0M108.4 231.6h0M107.8 230.2h0M116.8 279.9h0M137.7 256.0h0M137.6 226.9h0M134.8 276.5h0M107.3 243.7h0M109.0 246.9h0M128.0 265.0h0M136.0 267.3h0M133.2 252.4h0M136.6 259.6h0M129.0 244.4h0M128.5 241.7h0M108.4 263.7h0M124.1 268.8h0M100.9 261.4h0M115.0 265.6h0M96.1 242.2h0M132.3 232.6h0M133.4 267.1h0M108.4 244.0h0M132.6 255.3h0M91.5 230.7h0M105.3 223.4h0M100.3 250.4h0M138.5 268.1h0M140.5 254.3h0M97.0 276.0h0M112.8 275.2h0M141.7 260.9h0M98.5 227.9h0M139.7 245.9h0M131.7 242.6h0M102.0 234.0h0M99.8 275.8h0M128.5 242.1h0M104.9 220.1h0M133.3 244.2h0M90.9 221.9h0M99.0 268.9h0M110.3 255.1h0M144.0 256.4h0M95.5 251.1h0M138.4 262.3h0M103.6 251.3h0M114.0 265.4h0M114.7 277.2h0M107.2 251.8h0M110.5 277.0h0M98.3 228.7h0M92.1 260.2h0M140.4 230.5h0M110.8 263.5h0M125.0 256.9h0M102.9 262.6h0M136.7 258.6h0M137.7 264.1h0M96.2 277.8h0M105.6 262.4h0M128.2 265.3h0M102.4 239.3h0M108.5 260.9h0M130.6 246.5h0M96.5 237.4h0M139.7 261.8h0M109.4 258.7h0M101.1 225.6h0M106.9 276.7h0M143.2 240.0h0M97.4 249.7h0M133.0 258.9h0M113.4 268.5h0M131.4 228.4h0M108.8 279.3h0M97.0 219.6h0M132.2 253.0h0M133.4 240.8h0M106.2 219.1h0M128.4 276.2h0M137.5 251.0h0M91.2 244.6h0M94.0 268.5h0M101.4 254.6h0M102.0 233.0h0M132.0 228.3h0M91.6 243.2h0M96.0 247.0h0M129.2 244.6h0M133.0 225.3h0M137.0 248.9h0M131.4 233.4h0M127.6 241.7h0M132.6 231.3h0M107.8 258.2h0M133.9 261.6h0M136.1 264.9h0M111.8 282.5h0M132.0 222.3h0M136.2 274.6h0M96.0 255.4h0M108.0 231.2h0M99.1 244.4h0M119.7 275.8h0M105.7 269.3h0M135.3 238.5h0M97.3 252.6h0M123.4 275.1h0M128.3 252.5h0M142.6 226.3h0M139.6 238.9h0M125.5 278.4h0M104.5 271.3h0M97.2 232.4h0M127.8 247.1h0M107.6 231.4h0M98.3 242.4h0M106.2 281.5h0M115.9 276.2h0M102.1 260.8h0M123.3 267.1h0M111.7 258.7h0M107.8 242.4h0M98.8 277.4h0M97.8 250.8h0M137.8 241.3h0M109.1 265.3h0M130.8 262.3h0M143.8 261.7h0M110.0 255.7h0M145.4 224.3h0M131.8 267.0h0M136.1 273.6h0M99.7 256.6h0M145.1 268.9h0M131.4 247.6h0M116.7 274.3h0M116.9 283.0h0M134.5 273.7h0M107.0 275.7h0M134.5 242.4h0M140.4 265.9h0M135.4 243.3h0M101.5 259.3h0M142.1 264.1h0M97.6 245.2h0M92.7 239.9h0M96.4 228.5h0M91.0 227.4h0M128.5 274.1h0M101.3 275.1h0M134.6 252.7h0M107.6 248.2h0M124.5 255.5h0M138.0 251.3h0M106.5 247.5h0M112.9 278.9h0M101.3 234.0h0M130.1 238.4h0M123.0 282.0h0M102.4 226.2h0M125.9 276.2h0M99.2 269.3h0M134.4 247.9h0M108.6 250.8h0M139.9 234.6h0M104.8 230.9h0M112.4 282.6h0M139.4 218.9h0M91.1 246.6h0M133.9 262.0h0M108.5 265.1h0M132.2 255.4h0M94.0 269.6h0M106.7 241.7h0M124.7 281.8h0M114.8 268.1h0M133.9 229.3h0M133.0 257.2h0M95.5 254.0h0M109.3 276.5h0M113.8 281.3h0M114.0 276.4h0M129.6 248.7h0M100.4 224.2h0M108.7 245.4h0M109.7 238.7h0M129.2 265.3h0M111.0 269.3h0M131.1 244.4h0M114.7 267.8h0M136.8 277.7h0M138.6 255.8h0M107.4 264.1h0M91.8 263.4h0M93.6 268.9h0M137.5 265.8h0M94.6 239.7h0M105.9 228.5h0M111.0 251.6h0M109.3 242.4h0M106.8 236.9h0M130.9 237.8h0M111.7 278.2h0M141.5 224.4h0M93.0 257.2h0M132.9 273.6h0M98.5 268.4h0M105.2 258.6h0M99.7 253.1h0M97.9 222.6h0M136.4 252.7h0M95.3 242.0h0M143.9 222.7h0M99.4 266.4h0M103.4 258.6h0M133.4 260.1h0M141.7 239.4h0M139.8 272.1h0M138.8 262.2h0M102.5 244.8h0M109.8 261.0h0M118.4 283.7h0M95.2 246.0h0M109.4 238.9h0M131.5 250.7h0M131.3 261.7h0M93.2 268.5h0M131.3 233.3h0M99.1 237.0h0M91.3 234.2h0M142.1 269.5h0M124.9 260.6h0M136.7 260.8h0M131.4 260.2h0M93.2 223.2h0M101.5 238.7h0M106.6 242.9h0M137.2 233.6h0M143.9 236.6h0M133.8 275.1h0M143.4 219.8h0M101.8 259.9h0M107.8 247.2h0M106.5 274.5h0M99.1 277.0h0M141.7 258.4h0M131.0 237.0h0M137.5 261.8h0M135.2 262.8h0M102.4 245.3h0M131.4 221.3h0M143.9 240.4h0M136.6 239.6h0M135.6 254.1h0M128.9 228.2h0M145.9 235.7h0M100.1 241.4h0M145.8 240.9h0M131.7 233.9h0M101.3 265.7h0M142.6 227.2h0M130.5 265.9h0M145.3 257.8h0M109.9 279.4h0M128.0 264.7h0M102.7 248.9h0M125.9 268.4h0M129.2 262.5h0M142.6 258.2h0M110.3 268.0h0M109.3 257.2h0M139.8 264.2h0M103.5 252.4h0M105.9 253.2h0M136.1 273.3h0M96.0 234.9h0M91.6 246.6h0M145.4 222.1h0M139.0 274.1h0M102.1 245.5h0M111.3 280.4h0M131.4 229.3h0M104.1 241.8h0M137.6 228.9h0M138.3 241.0h0M135.6 235.2h0M133.1 279.8h0M99.1 246.2h0M116.0 275.2h0M127.1 276.4h0M141.5 225.2h0M107.2 221.1h0M121.7 281.2h0M90.9 231.4h0M98.1 276.6h0M109.0 252.3h0M143.5 238.5h0M138.2 276.2h0M139.7 275.3h0M127.3 273.3h0M129.4 279.5h0M145.8 248.7h0M137.1 263.6h0M133.2 261.5h0M141.4 253.2h0M103.7 267.5h0M108.4 231.1h0M99.3 261.5h0M133.3 268.5h0M109.7 269.0h0M98.2 248.7h0M100.5 254.6h0M102.8 244.3h0M122.8 270.6h0M140.8 253.0h0M143.1 225.4h0M100.0 255.1h0M137.8 233.8h0M124.7 270.2h0M95.8 254.1h0M140.4 276.0h0M125.0 267.6h0M126.2 281.5h0M133.8 249.1h0M134.3 260.6h0M108.2 269.3h0M108.8 265.1h0M137.2 249.5h0M144.2 251.7h0M99.7 252.3h0M137.4 244.2h0M144.2 225.6h0M142.0 262.4h0M128.1 236.0h0M131.9 255.8h0M101.3 275.0h0M106.4 236.0h0M106.4 237.8h0M126.8 243.8h0M137.0 257.1h0M121.5 280.1h0M126.5 275.1h0M132.9 230.6h0M130.5 257.8h0M137.7 249.7h0M139.5 233.0h0M111.8 264.3h0M130.4 253.9h0M140.0 241.4h0M108.2 229.0h0M132.2 227.8h0M105.2 262.3h0M95.0 241.9h0M99.4 260.6h0M105.0 225.9h0M133.0 270.4h0M104.4 251.1h0M105.5 273.2h0M139.8 218.9h0M96.7 266.3h0M104.2 278.3h0M123.0 271.1h0M126.0 256.1h0M97.6 230.9h0M141.3 259.6h0M125.8 268.4h0M108.0 255.5h0M127.2 246.1h0M144.5 244.5h0M109.2 237.7h0M124.5 266.4h0M105.0 225.8h0M136.6 257.1h0M133.1 253.5h0M108.3 272.5h0M144.9 231.1h0M119.3 277.8h0M109.7 251.7h0M108.6 243.4h0M99.9 227.5h0M140.9 258.5h0M114.3 270.2h0M102.7 234.0h0M108.4 282.1h0M133.2 253.1h0M134.8 223.3h0M129.5 280.6h0M144.0 245.3h0M104.1 232.6h0M124.2 270.4h0M107.9 228.2h0M141.6 227.5h0M111.8 268.7h0M90.8 245.5h0M95.0 223.7h0M109.9 263.7h0M108.1 267.7h0M109.3 280.8h0M99.6 228.8h0M145.7 234.6h0M96.1 272.8h0M132.1 245.4h0M143.2 218.6h0M112.1 276.8h0M134.4 226.4h0M114.6 272.0h0M127.4 246.5h0M135.1 248.6h0M126.8 244.7h0M112.5 267.3h0M127.6 247.9h0M101.4 247.5h0M132.3 273.6h0M108.3 249.4h0M129.1 280.0h0M98.3 275.2h0M122.4 275.3h0M141.8 233.9h0M102.2 258.5h0M124.5 281.2h0M140.1 253.9h0M145.2 249.2h0M125.3 268.7h0M127.0 269.0h0M121.4 280.4h0M140.1 234.2h0M126.6 261.4h0M109.8 266.0h0M133.1 272.5h0M106.1 257.9h0M134.7 236.1h0M135.4 267.5h0M128.6 250.3h0M96.8 275.5h0M106.1 249.3h0M131.0 240.8h0M111.2 279.9h0M106.1 276.3h0M99.3 225.9h0M142.0 250.0h0M111.4 250.5h0M103.2 274.0h0M112.0 256.3h0M91.0 233.5h0M144.5 227.1h0M108.8 232.9h0M140.6 246.7h0M135.0 236.2h0M93.8 271.0h0M138.6 271.2h0M143.8 237.9h0M133.6 248.8h0M133.7 258.0h0M137.6 266.7h0M95.5 227.7h0M131.1 233.9h0M129.3 226.8h0M108.0 272.2h0M137.3 246.5h0M135.8 242.0h0M140.3 254.2h0M125.4 273.0h0M102.1 251.6h0M105.6 241.5h0M131.8 230.4h0M136.4 247.4h0M104.6 280.3h0M136.6 246.6h0M102.7 218.4h0M92.1 259.8h0M128.5 231.0h0M102.8 260.4h0M103.1 278.8h0M128.8 275.2h0M128.5 251.7h0M107.5 227.2h0M93.3 264.4h0M90.9 236.3h0M92.9 266.4h0M122.3 281.3h0M139.8 221.1h0M104.5 270.5h0M132.3 245.4h0M100.2 269.6h0M109.9 250.3h0M136.0 267.9h0M103.9 246.9h0M139.8 262.4h0M131.1 279.6h0M95.4 244.2h0M100.9 254.5h0M140.3 270.3h0M103.1 233.4h0M109.9 274.3h0M132.2 246.1h0M123.5 265.3h0M106.5 278.2h0M102.9 253.6h0M92.4 255.2h0M96.7 229.0h0M107.5 238.1h0M135.2 251.1h0M104.8 246.4h0M97.7 249.0h0M142.7 269.6h0M130.6 259.9h0M102.0 267.8h0M104.8 229.2h0M139.0 271.4h0M136.7 251.2h0M143.3 256.1h0M104.2 251.2h0M134.9 242.4h0M139.3 237.9h0M100.3 230.8h0M93.5 228.5h0M98.7 243.6h0M111.8 257.0h0M136.1 269.2h0M128.7 278.3h0M121.3 274.1h0M97.4 228.4h0M92.5 269.8h0M133.5 224.1h0M132.0 261.2h0M106.3 236.3h0M98.8 278.9h0M110.6 257.4h0M99.6 235.0h0M131.2 270.6h0M109.1 246.9h0M138.4 231.1h0M105.6 259.4h0M94.4 241.7h0M120.6 278.5h0M140.2 261.6h0M138.8 244.1h0M106.0 230.2h0M105.6 248.7h0M103.5 268.0h0M131.4 267.3h0M131.7 259.0h0M96.3 255.2h0M130.3 249.9h0M128.4 254.1h0M139.7 235.5h0M93.7 239.0h0M139.3 261.8h0M138.9 234.9h0M124.1 256.7h0M92.3 262.7h0M126.1 251.9h0M145.7 238.4h0M133.4 269.3h0M145.1 246.5h0M109.7 254.1h0M106.2 233.5h0M128.2 263.3h0M131.0 272.9h0M106.9 277.8h0M103.1 267.0h0M139.9 230.3h0M107.1 278.7h0M130.9 236.6h0M91.2 250.6h0M107.0 253.8h0M103.1 276.3h0M128.4 263.2h0M136.2 264.1h0M134.3 240.9h0M115.8 273.9h0M104.3 240.2h0M128.3 250.0h0M102.0 239.1h0M95.7 262.9h0M138.6 252.5h0M98.2 231.4h0M135.1 237.4h0M93.2 272.5h0M97.2 264.3h0M134.6 251.5h0M97.0 264.6h0M143.0 266.9h0M105.0 276.8h0M95.8 242.4h0M104.7 249.6h0M95.7 228.7h0M137.2 257.8h0M121.6 266.6h0M138.5 278.2h0M136.7 249.1h0M104.7 232.7h0M110.6 250.4h0M134.7 272.6h0M99.4 230.3h0M99.4 218.1h0M104.5 246.5h0M125.2 266.2h0M129.0 228.3h0M137.2 266.2h0M111.5 258.3h0M123.8 269.5h0M91.0 253.7h0M141.5 250.5h0M112.6 273.1h0M120.4 271.0h0M97.2 246.0h0M126.3 269.7h0M93.3 262.9h0M130.5 238.4h0M131.8 230.0h0M96.5 257.8h0M133.1 230.8h0M130.2 234.6h0M135.1 236.3h0M123.0 271.6h0M124.7 257.9h0M105.9 256.1h0M136.7 245.0h0M114.3 270.0h0M136.5 277.3h0M130.8 248.3h0M101.4 220.8h0M124.8 251.8h0M121.0 280.0h0M126.1 246.9h0M95.0 252.2h0M104.8 234.0h0M107.7 229.9h0M124.0 281.6h0M134.4 222.1h0M123.5 256.6h0M112.3 259.4h0M97.9 278.2h0M128.1 272.2h0M110.1 271.9h0M93.2 257.9h0M103.4 246.2h0M129.2 234.2h0M132.4 232.9h0M140.3 244.9h0M92.6 244.6h0M140.6 220.3h0M124.8 273.6h0M132.5 228.5h0M138.3 252.9h0M109.3 259.3h0M92.3 251.7h0M107.8 247.3h0M91.4 266.1h0M137.9 269.7h0M132.4 267.9h0M137.6 261.4h0M113.6 263.7h0M131.8 229.2h0M98.7 258.3h0M126.9 277.1h0M139.7 248.3h0M134.8 243.8h0M141.8 237.6h0M138.5 260.0h0M122.6 271.2h0M106.9 279.3h0M100.7 247.7h0M133.7 262.4h0M106.2 219.0h0M105.9 226.5h0M100.5 255.4h0M102.3 266.4h0M141.0 266.8h0M133.4 240.2h0M138.6 256.7h0M101.8 247.3h0M110.0 241.5h0M135.8 231.5h0M98.4 225.1h0M140.3 233.7h0M131.8 265.1h0M108.2 252.1h0M106.4 271.5h0M145.3 263.4h0M134.1 270.6h0M104.8 259.6h0M106.9 246.6h0M95.9 237.2h0M144.1 265.8h0M101.1 229.5h0M102.5 258.5h0M129.6 249.7h0M131.6 238.8h0M144.2 264.0h0M98.2 274.4h0M131.5 233.8h0M133.1 248.7h0M105.6 239.8h0M100.2 266.5h0M103.3 253.5h0M111.7 254.5h0M137.1 236.2h0M104.5 248.4h0M98.6 254.7h0M132.1 256.1h0M97.7 254.4h0M101.0 227.8h0M140.4 232.0h0M140.7 256.2h0M129.9 243.6h0M131.5 238.1h0M136.3 222.7h0M129.4 275.7h0M122.2 274.9h0M144.3 240.9h0M130.5 240.0h0M104.1 232.9h0M93.3 258.1h0M107.4 260.7h0M134.6 245.5h0M98.8 233.6h0M135.2 276.4h0M138.0 267.1h0M140.5 248.0h0M95.9 224.6h0M98.1 270.7h0M131.2 240.4h0M131.0 271.9h0M90.9 238.7h0M92.7 271.6h0M102.5 269.8h0M142.9 261.0h0M135.1 278.3h0M102.6 244.9h0M102.2 259.3h0M97.6 272.8h0M110.4 252.1h0M107.3 269.0h0M125.2 248.5h0M111.6 264.9h0M132.0 258.7h0M99.1 265.9h0M135.5 264.1h0M139.0 260.6h0M141.5 243.7h0M102.9 230.6h0M143.3 234.5h0M130.8 234.3h0M132.7 248.1h0M96.2 267.6h0M134.9 271.4h0M122.0 282.8h0M141.6 266.8h0M141.7 225.0h0M94.5 248.9h0M97.6 260.8h0M93.9 220.8h0M96.1 218.8h0M111.3 261.5h0M101.6 240.4h0M104.1 230.9h0M108.2 244.0h0M143.2 271.1h0M144.8 233.0h0M92.6 220.0h0M130.9 247.2h0M127.6 233.7h0M94.4 237.7h0M103.8 253.0h0M130.6 278.8h0M91.8 245.4h0M108.8 242.3h0M138.7 257.8h0M142.3 272.6h0M94.0 276.0h0M112.4 256.2h0M96.9 230.0h0M117.6 276.7h0M144.8 226.9h0M133.0 249.6h0M136.2 244.5h0M135.1 234.0h0M107.2 239.8h0M140.2 266.9h0M130.4 279.8h0M143.6 251.5h0M94.0 252.3h0M138.4 223.6h0M97.8 221.5h0M132.2 219.5h0M138.0 238.0h0M92.7 242.6h0M131.6 277.9h0M126.2 259.1h0M108.5 262.8h0M104.4 247.3h0M111.7 264.9h0M104.7 244.2h0M129.6 255.8h0M107.7 254.2h0M99.3 270.0h0M144.6 252.4h0M123.4 269.9h0M143.7 242.7h0M142.1 243.1h0M120.5 273.0h0M132.9 273.9h0M135.6 250.8h0M112.7 278.5h0M123.9 265.1h0M107.8 258.5h0M101.7 249.1h0M126.7 257.4h0M99.7 279.1h0M124.7 270.6h0M94.7 232.7h0M104.7 270.6h0M139.3 243.0h0M140.5 264.3h0M91.8 269.8h0M108.6 253.8h0M130.5 243.9h0M102.1 240.7h0M101.2 259.4h0M107.2 254.3h0M102.7 237.3h0M119.7 275.7h0M126.7 258.4h0M133.6 221.9h0M99.9 240.4h0M104.1 273.9h0M139.9 261.0h0M105.0 235.8h0M146.0 244.7h0M126.8 270.6h0M137.1 236.3h0M133.7 238.9h0M105.5 250.8h0M125.6 252.6h0M141.9 245.8h0M94.5 240.9h0M142.3 258.6h0M129.3 236.5h0M101.3 271.6h0M109.1 245.0h0M137.3 269.8h0M120.8 278.4h0M106.1 277.7h0M125.0 261.1h0M136.3 259.2h0M127.8 253.3h0M101.1 230.2h0M105.7 226.7h0M123.3 282.5h0M118.8 281.6h0M130.6 252.0h0M125.0 279.5h0M108.4 242.4h0M106.5 243.7h0M90.9 252.4h0M110.8 279.0h0M105.5 264.7h0M100.5 243.6h0M92.6 247.6h0M101.2 269.1h0M128.2 272.7h0M99.9 240.7h0M106.8 255.8h0M127.9 250.9h0M92.3 245.7h0M136.1 225.2h0M97.6 258.1h0M98.7 266.5h0M129.2 257.7h0M94.8 275.8h0M92.9 226.0h0M143.6 223.5h0M123.2 282.5h0M106.7 245.9h0M130.5 258.4h0M105.9 226.4h0M100.4 237.1h0M143.4 263.3h0M98.7 273.4h0M93.8 240.2h0M96.0 251.9h0M98.3 236.2h0M102.6 265.7h0M140.9 266.5h0M143.9 270.2h0M138.0 264.9h0M133.6 242.8h0M127.4 261.8h0M132.5 277.1h0M120.1 273.9h0M135.5 250.9h0M121.1 273.3h0M134.1 258.3h0M129.8 271.0h0M108.9 235.1h0M104.3 226.6h0M105.0 242.3h0M134.8 241.2h0M123.7 259.2h0M101.9 277.7h0M141.2 266.6h0M114.2 282.8h0M137.9 245.5h0M142.6 268.1h0M128.3 231.2h0M134.9 221.6h0M134.8 247.5h0M103.5 220.4h0M110.7 244.4h0M106.6 261.9h0M124.2 282.7h0M138.8 221.9h0M142.4 237.4h0M119.0 283.2h0M137.1 269.5h0M91.3 237.3h0M97.1 258.1h0M124.7 281.1h0M109.8 244.5h0M131.4 242.2h0M98.9 271.9h0M111.7 280.9h0M105.0 280.0h0M96.6 223.7h0M102.4 278.7h0M113.3 283.0h0M102.4 280.2h0M132.6 279.9h0M128.2 282.6h0M122.0 284.1h0M132.6 278.5h0M135.4 278.8h0M113.6 282.7h0M114.3 281.9h0M135.2 278.9h0M108.9 281.9h0M116.3 283.7h0M107.4 281.7h0M126.3 282.5h0M124.6 281.2h0M139.7 277.1h0M108.1 282.9h0M110.5 281.0h0M113.8 281.3h0M136.5 277.1h0M128.0 282.3h0M99.0 279.1h0M118.1 283.1h0M123.6 282.0h0M102.2 279.6h0M99.7 279.0h0M120.2 283.2h0M127.4 281.0h0M133.5 279.9h0M133.4 279.0h0M127.7 281.5h0M127.5 281.3h0M139.0 277.1h0M131.4 281.0h0M120.0 283.8h0M138.8 276.5h0M130.2 282.7h0M107.6 281.8h0M106.2 281.5h0M76.0 269.0h0M82.9 276.5h0M82.3 267.0h0M169.3 266.0h0M160.9 273.3h0M157.2 272.3h0M152.6 272.3h0M86.0 271.0h0M88.0 266.0h0M150.0 276.0h0M148.0 279.0h0M89.5 262.0h0M147.5 266.0h0" stroke="#0d0d0d" stroke-width="1.74" stroke-linecap="round" fill="none"/>
<g fill="none" stroke="#222" stroke-width="0.55"><circle cx="132.1" cy="216.6" r="0.6"/><circle cx="91.4" cy="217.6" r="0.6"/><circle cx="99.1" cy="216.3" r="0.6"/><circle cx="136.1" cy="216.0" r="0.6"/><circle cx="91.5" cy="211.8" r="0.6"/><circle cx="91.7" cy="215.4" r="0.6"/><circle cx="100.7" cy="212.2" r="0.6"/><circle cx="94.2" cy="214.9" r="0.6"/><circle cx="104.0" cy="217.6" r="0.6"/><circle cx="92.0" cy="207.6" r="0.6"/><circle cx="105.7" cy="214.9" r="0.6"/><circle cx="101.1" cy="217.8" r="0.6"/><circle cx="104.6" cy="216.6" r="0.6"/><circle cx="143.9" cy="212.5" r="0.6"/><circle cx="100.8" cy="204.3" r="0.6"/><circle cx="92.3" cy="214.3" r="0.6"/><circle cx="144.1" cy="215.7" r="0.6"/><circle cx="96.0" cy="207.8" r="0.6"/><circle cx="144.5" cy="216.4" r="0.6"/><circle cx="134.0" cy="215.7" r="0.6"/><circle cx="142.1" cy="217.1" r="0.6"/><circle cx="96.0" cy="214.5" r="0.6"/><circle cx="100.9" cy="212.2" r="0.6"/><circle cx="94.1" cy="218.0" r="0.6"/><circle cx="100.9" cy="216.8" r="0.6"/><circle cx="102.5" cy="217.4" r="0.6"/><circle cx="102.5" cy="217.1" r="0.6"/><circle cx="97.8" cy="211.5" r="0.6"/><circle cx="100.4" cy="202.9" r="0.6"/><circle cx="145.2" cy="209.9" r="0.6"/><circle cx="139.3" cy="212.5" r="0.6"/><circle cx="143.2" cy="214.1" r="0.6"/><circle cx="96.9" cy="216.4" r="0.6"/><circle cx="91.1" cy="214.8" r="0.6"/><circle cx="92.1" cy="212.5" r="0.6"/><circle cx="97.6" cy="213.7" r="0.6"/><circle cx="142.2" cy="214.4" r="0.6"/><circle cx="95.2" cy="210.3" r="0.6"/><circle cx="138.8" cy="217.5" r="0.6"/><circle cx="95.4" cy="216.0" r="0.6"/><circle cx="139.6" cy="212.9" r="0.6"/><circle cx="138.5" cy="212.7" r="0.6"/><circle cx="101.3" cy="205.4" r="0.6"/><circle cx="146.1" cy="215.5" r="0.6"/><circle cx="96.7" cy="212.9" r="0.6"/><circle cx="101.0" cy="213.8" r="0.6"/><circle cx="139.0" cy="216.3" r="0.6"/><circle cx="99.0" cy="209.9" r="0.6"/><circle cx="93.6" cy="205.2" r="0.6"/><circle cx="98.6" cy="203.6" r="0.6"/><circle cx="90.9" cy="214.7" r="0.6"/><circle cx="98.5" cy="213.5" r="0.6"/><circle cx="145.7" cy="214.7" r="0.6"/><circle cx="102.7" cy="216.1" r="0.6"/><circle cx="101.2" cy="214.2" r="0.6"/><circle cx="105.3" cy="213.8" r="0.6"/><circle cx="92.1" cy="213.4" r="0.6"/><circle cx="97.1" cy="211.1" r="0.6"/><circle cx="131.0" cy="215.6" r="0.6"/><circle cx="136.6" cy="215.9" r="0.6"/><circle cx="98.1" cy="199.7" r="0.6"/><circle cx="136.8" cy="217.6" r="0.6"/><circle cx="132.4" cy="217.5" r="0.6"/><circle cx="135.8" cy="217.8" r="0.6"/><circle cx="97.1" cy="211.0" r="0.6"/><circle cx="140.7" cy="215.4" r="0.6"/><circle cx="91.5" cy="210.2" r="0.6"/><circle cx="100.6" cy="216.8" r="0.6"/><circle cx="103.1" cy="206.1" r="0.6"/><circle cx="142.6" cy="215.3" r="0.6"/><circle cx="138.4" cy="213.4" r="0.6"/><circle cx="137.3" cy="212.0" r="0.6"/><circle cx="91.3" cy="181.3" r="0.6"/><circle cx="96.5" cy="187.0" r="0.6"/><circle cx="100.7" cy="197.9" r="0.6"/><circle cx="93.3" cy="203.6" r="0.6"/><circle cx="94.3" cy="202.3" r="0.6"/><circle cx="101.9" cy="204.7" r="0.6"/><circle cx="100.1" cy="207.3" r="0.6"/><circle cx="96.2" cy="208.5" r="0.6"/><circle cx="104.8" cy="208.1" r="0.6"/><circle cx="103.6" cy="211.0" r="0.6"/><circle cx="141.3" cy="184.9" r="0.6"/><circle cx="140.2" cy="190.4" r="0.6"/><circle cx="139.1" cy="194.0" r="0.6"/><circle cx="145.3" cy="194.2" r="0.6"/><circle cx="142.9" cy="205.6" r="0.6"/><circle cx="145.6" cy="203.4" r="0.6"/><circle cx="140.7" cy="209.4" r="0.6"/><circle cx="145.6" cy="208.4" r="0.6"/></g>
<g fill="none" stroke="#1b8a4c" stroke-width="0.5"><circle cx="72.2" cy="191.3" r="0.58"/><circle cx="82.3" cy="206.8" r="0.58"/><circle cx="85.8" cy="208.5" r="0.58"/><circle cx="52.5" cy="215.8" r="0.58"/><circle cx="61.3" cy="218.9" r="0.58"/><circle cx="57.2" cy="220.6" r="0.58"/><circle cx="54.0" cy="224.2" r="0.58"/><circle cx="73.9" cy="217.9" r="0.58"/><circle cx="43.6" cy="229.8" r="0.58"/><circle cx="56.1" cy="231.1" r="0.58"/><circle cx="37.3" cy="234.6" r="0.58"/><circle cx="37.3" cy="237.3" r="0.58"/><circle cx="55.1" cy="234.0" r="0.58"/><circle cx="63.4" cy="234.0" r="0.58"/><circle cx="35.6" cy="250.3" r="0.58"/><circle cx="50.2" cy="254.1" r="0.58"/><circle cx="62.4" cy="257.6" r="0.58"/><circle cx="64.0" cy="262.9" r="0.58"/><circle cx="64.5" cy="247.8" r="0.58"/><circle cx="69.7" cy="237.1" r="0.58"/><circle cx="85.0" cy="247.8" r="0.58"/><circle cx="89.9" cy="248.1" r="0.58"/><circle cx="82.0" cy="229.3" r="0.58"/><circle cx="88.0" cy="230.5" r="0.58"/><circle cx="88.7" cy="216.9" r="0.58"/><circle cx="88.5" cy="243.8" r="0.58"/><circle cx="87.9" cy="248.2" r="0.58"/><circle cx="90.2" cy="212.2" r="0.58"/><circle cx="83.2" cy="213.5" r="0.58"/><circle cx="85.3" cy="254.7" r="0.58"/><circle cx="85.3" cy="251.8" r="0.58"/><circle cx="88.8" cy="220.1" r="0.58"/><circle cx="85.1" cy="231.1" r="0.58"/><circle cx="78.8" cy="254.3" r="0.58"/><circle cx="79.3" cy="232.3" r="0.58"/><circle cx="84.8" cy="227.8" r="0.58"/><circle cx="82.6" cy="247.3" r="0.58"/><circle cx="82.6" cy="249.4" r="0.58"/><circle cx="78.0" cy="225.0" r="0.58"/><circle cx="78.7" cy="250.2" r="0.58"/><circle cx="87.2" cy="226.3" r="0.58"/><circle cx="78.6" cy="229.5" r="0.58"/><circle cx="83.9" cy="239.0" r="0.58"/><circle cx="87.5" cy="256.6" r="0.58"/><circle cx="86.1" cy="238.9" r="0.58"/><circle cx="85.9" cy="228.0" r="0.58"/><circle cx="89.9" cy="242.3" r="0.58"/><circle cx="87.7" cy="241.7" r="0.58"/><circle cx="83.3" cy="222.3" r="0.58"/><circle cx="83.0" cy="255.5" r="0.58"/><circle cx="89.2" cy="255.0" r="0.58"/><circle cx="88.8" cy="233.0" r="0.58"/><circle cx="83.4" cy="215.6" r="0.58"/><circle cx="78.8" cy="219.3" r="0.58"/><circle cx="86.7" cy="238.2" r="0.58"/><circle cx="88.0" cy="256.1" r="0.58"/><circle cx="82.4" cy="257.1" r="0.58"/><circle cx="79.6" cy="246.1" r="0.58"/><circle cx="87.5" cy="238.2" r="0.58"/><circle cx="89.3" cy="247.8" r="0.58"/><circle cx="89.8" cy="249.4" r="0.58"/><circle cx="72.1" cy="259.5" r="0.58"/><circle cx="87.8" cy="227.1" r="0.58"/><circle cx="70.7" cy="247.4" r="0.58"/><circle cx="86.6" cy="237.0" r="0.58"/><circle cx="89.8" cy="238.4" r="0.58"/><circle cx="83.7" cy="256.0" r="0.58"/><circle cx="79.0" cy="249.4" r="0.58"/><circle cx="88.2" cy="218.5" r="0.58"/><circle cx="89.2" cy="247.8" r="0.58"/><circle cx="85.8" cy="240.4" r="0.58"/><circle cx="90.0" cy="227.5" r="0.58"/><circle cx="89.7" cy="241.6" r="0.58"/><circle cx="77.5" cy="250.6" r="0.58"/><circle cx="83.6" cy="219.1" r="0.58"/><circle cx="84.6" cy="242.5" r="0.58"/><circle cx="88.7" cy="227.5" r="0.58"/><circle cx="81.0" cy="260.5" r="0.58"/><circle cx="89.0" cy="217.4" r="0.58"/><circle cx="86.8" cy="231.2" r="0.58"/><circle cx="75.9" cy="218.4" r="0.58"/><circle cx="88.1" cy="248.2" r="0.58"/></g>
<g fill="none" stroke="#e4533d" stroke-width="0.5"><circle cx="160.9" cy="187.6" r="0.58"/><circle cx="147.3" cy="182.3" r="0.58"/><circle cx="153.0" cy="194.9" r="0.58"/><circle cx="156.7" cy="195.9" r="0.58"/><circle cx="171.8" cy="197.6" r="0.58"/><circle cx="185.6" cy="197.6" r="0.58"/><circle cx="164.7" cy="201.8" r="0.58"/><circle cx="170.3" cy="201.8" r="0.58"/><circle cx="176.6" cy="212.2" r="0.58"/><circle cx="173.0" cy="214.7" r="0.58"/><circle cx="180.8" cy="228.3" r="0.58"/><circle cx="181.4" cy="231.5" r="0.58"/><circle cx="172.4" cy="240.3" r="0.58"/><circle cx="181.8" cy="244.0" r="0.58"/><circle cx="189.8" cy="247.2" r="0.58"/><circle cx="188.5" cy="250.7" r="0.58"/><circle cx="173.0" cy="263.3" r="0.58"/><circle cx="176.6" cy="263.9" r="0.58"/><circle cx="147.6" cy="225.4" r="0.58"/><circle cx="150.7" cy="257.5" r="0.58"/><circle cx="148.6" cy="204.7" r="0.58"/><circle cx="153.8" cy="202.4" r="0.58"/><circle cx="147.2" cy="251.8" r="0.58"/><circle cx="147.6" cy="258.4" r="0.58"/><circle cx="169.8" cy="240.9" r="0.58"/><circle cx="149.2" cy="245.9" r="0.58"/><circle cx="150.4" cy="242.1" r="0.58"/><circle cx="151.1" cy="242.2" r="0.58"/><circle cx="153.9" cy="259.8" r="0.58"/><circle cx="153.9" cy="225.3" r="0.58"/><circle cx="148.1" cy="244.3" r="0.58"/><circle cx="151.0" cy="244.7" r="0.58"/><circle cx="150.4" cy="235.2" r="0.58"/><circle cx="152.9" cy="253.2" r="0.58"/><circle cx="147.5" cy="258.3" r="0.58"/><circle cx="156.9" cy="256.2" r="0.58"/><circle cx="148.3" cy="257.0" r="0.58"/><circle cx="146.9" cy="260.7" r="0.58"/><circle cx="167.9" cy="253.2" r="0.58"/><circle cx="150.3" cy="239.7" r="0.58"/><circle cx="149.2" cy="235.0" r="0.58"/><circle cx="149.3" cy="220.4" r="0.58"/><circle cx="146.9" cy="239.2" r="0.58"/><circle cx="165.4" cy="264.5" r="0.58"/><circle cx="150.7" cy="217.9" r="0.58"/><circle cx="147.7" cy="250.0" r="0.58"/><circle cx="149.9" cy="253.9" r="0.58"/><circle cx="152.0" cy="240.0" r="0.58"/><circle cx="147.5" cy="247.0" r="0.58"/><circle cx="150.6" cy="228.2" r="0.58"/><circle cx="148.1" cy="213.0" r="0.58"/><circle cx="150.9" cy="230.6" r="0.58"/><circle cx="146.6" cy="210.6" r="0.58"/><circle cx="152.1" cy="210.2" r="0.58"/><circle cx="158.0" cy="246.4" r="0.58"/><circle cx="154.8" cy="245.5" r="0.58"/><circle cx="153.0" cy="213.3" r="0.58"/><circle cx="154.8" cy="224.3" r="0.58"/><circle cx="152.8" cy="216.0" r="0.58"/><circle cx="153.3" cy="209.2" r="0.58"/><circle cx="154.9" cy="229.7" r="0.58"/><circle cx="158.5" cy="230.9" r="0.58"/><circle cx="150.2" cy="244.7" r="0.58"/><circle cx="148.6" cy="233.1" r="0.58"/><circle cx="170.0" cy="243.7" r="0.58"/><circle cx="154.4" cy="230.1" r="0.58"/><circle cx="149.9" cy="226.3" r="0.58"/><circle cx="156.0" cy="233.6" r="0.58"/><circle cx="146.8" cy="222.2" r="0.58"/><circle cx="157.6" cy="250.3" r="0.58"/><circle cx="148.9" cy="260.9" r="0.58"/><circle cx="149.9" cy="245.1" r="0.58"/><circle cx="147.5" cy="223.5" r="0.58"/><circle cx="146.7" cy="254.6" r="0.58"/><circle cx="150.3" cy="233.8" r="0.58"/><circle cx="149.1" cy="259.5" r="0.58"/><circle cx="150.3" cy="242.7" r="0.58"/><circle cx="150.4" cy="252.1" r="0.58"/><circle cx="150.8" cy="261.7" r="0.58"/><circle cx="147.1" cy="208.0" r="0.58"/><circle cx="151.7" cy="242.6" r="0.58"/><circle cx="152.8" cy="245.6" r="0.58"/><circle cx="148.7" cy="238.4" r="0.58"/><circle cx="150.6" cy="241.9" r="0.58"/><circle cx="148.8" cy="243.8" r="0.58"/><circle cx="149.0" cy="253.7" r="0.58"/><circle cx="147.2" cy="210.2" r="0.58"/><circle cx="149.2" cy="242.6" r="0.58"/><circle cx="158.2" cy="228.3" r="0.58"/><circle cx="159.5" cy="213.9" r="0.58"/><circle cx="169.3" cy="254.4" r="0.58"/><circle cx="147.0" cy="251.1" r="0.58"/><circle cx="158.6" cy="226.6" r="0.58"/><circle cx="153.0" cy="261.9" r="0.58"/><circle cx="157.2" cy="233.9" r="0.58"/><circle cx="150.6" cy="257.6" r="0.58"/><circle cx="152.5" cy="255.8" r="0.58"/><circle cx="149.1" cy="235.5" r="0.58"/><circle cx="161.6" cy="248.4" r="0.58"/><circle cx="148.0" cy="234.4" r="0.58"/><circle cx="148.4" cy="226.3" r="0.58"/><circle cx="148.7" cy="254.2" r="0.58"/><circle cx="149.3" cy="235.7" r="0.58"/><circle cx="152.3" cy="204.9" r="0.58"/><circle cx="148.6" cy="247.3" r="0.58"/><circle cx="149.9" cy="261.9" r="0.58"/><circle cx="146.9" cy="225.8" r="0.58"/><circle cx="152.1" cy="244.6" r="0.58"/><circle cx="147.3" cy="241.9" r="0.58"/><circle cx="149.8" cy="229.2" r="0.58"/><circle cx="147.2" cy="234.1" r="0.58"/><circle cx="147.9" cy="244.2" r="0.58"/><circle cx="148.6" cy="252.0" r="0.58"/><circle cx="148.9" cy="223.8" r="0.58"/><circle cx="151.3" cy="247.4" r="0.58"/><circle cx="148.6" cy="257.0" r="0.58"/><circle cx="147.9" cy="258.8" r="0.58"/><circle cx="155.7" cy="254.9" r="0.58"/><circle cx="148.0" cy="245.9" r="0.58"/><circle cx="165.2" cy="229.4" r="0.58"/><circle cx="147.1" cy="228.2" r="0.58"/><circle cx="148.0" cy="264.1" r="0.58"/><circle cx="147.8" cy="200.8" r="0.58"/><circle cx="147.4" cy="219.4" r="0.58"/><circle cx="166.8" cy="251.0" r="0.58"/><circle cx="148.4" cy="253.7" r="0.58"/><circle cx="147.0" cy="211.1" r="0.58"/><circle cx="151.6" cy="224.0" r="0.58"/><circle cx="151.3" cy="253.4" r="0.58"/><circle cx="148.6" cy="232.1" r="0.58"/><circle cx="153.4" cy="245.7" r="0.58"/><circle cx="149.6" cy="252.9" r="0.58"/><circle cx="149.2" cy="249.7" r="0.58"/><circle cx="148.9" cy="264.8" r="0.58"/><circle cx="163.7" cy="261.5" r="0.58"/><circle cx="160.2" cy="221.6" r="0.58"/><circle cx="148.4" cy="252.6" r="0.58"/><circle cx="152.5" cy="229.8" r="0.58"/><circle cx="159.4" cy="246.2" r="0.58"/><circle cx="153.3" cy="229.4" r="0.58"/><circle cx="148.5" cy="203.7" r="0.58"/><circle cx="146.7" cy="246.7" r="0.58"/><circle cx="150.0" cy="226.3" r="0.58"/><circle cx="150.4" cy="231.6" r="0.58"/><circle cx="156.3" cy="264.3" r="0.58"/><circle cx="146.9" cy="224.5" r="0.58"/><circle cx="153.1" cy="213.3" r="0.58"/><circle cx="153.6" cy="234.5" r="0.58"/><circle cx="148.7" cy="230.3" r="0.58"/><circle cx="147.3" cy="230.8" r="0.58"/><circle cx="152.0" cy="237.1" r="0.58"/><circle cx="154.6" cy="235.3" r="0.58"/><circle cx="151.9" cy="255.2" r="0.58"/><circle cx="149.0" cy="229.4" r="0.58"/><circle cx="160.2" cy="222.2" r="0.58"/><circle cx="147.7" cy="224.8" r="0.58"/><circle cx="164.0" cy="242.5" r="0.58"/><circle cx="150.7" cy="244.4" r="0.58"/><circle cx="149.1" cy="233.6" r="0.58"/><circle cx="153.1" cy="232.6" r="0.58"/><circle cx="152.6" cy="236.7" r="0.58"/><circle cx="147.4" cy="230.5" r="0.58"/><circle cx="159.7" cy="208.8" r="0.58"/><circle cx="150.5" cy="228.1" r="0.58"/><circle cx="151.0" cy="240.1" r="0.58"/><circle cx="160.4" cy="228.0" r="0.58"/><circle cx="147.4" cy="223.0" r="0.58"/><circle cx="148.5" cy="228.2" r="0.58"/><circle cx="153.5" cy="253.7" r="0.58"/><circle cx="150.0" cy="261.9" r="0.58"/><circle cx="152.1" cy="249.7" r="0.58"/><circle cx="161.4" cy="258.3" r="0.58"/><circle cx="146.9" cy="224.7" r="0.58"/><circle cx="149.0" cy="213.6" r="0.58"/><circle cx="152.9" cy="247.6" r="0.58"/><circle cx="150.4" cy="244.8" r="0.58"/><circle cx="146.7" cy="217.2" r="0.58"/><circle cx="149.5" cy="252.2" r="0.58"/><circle cx="146.6" cy="249.2" r="0.58"/><circle cx="150.0" cy="202.0" r="0.58"/><circle cx="146.9" cy="232.3" r="0.58"/><circle cx="148.9" cy="257.1" r="0.58"/><circle cx="147.2" cy="260.7" r="0.58"/><circle cx="156.7" cy="223.7" r="0.58"/><circle cx="157.7" cy="259.2" r="0.58"/><circle cx="156.2" cy="204.0" r="0.58"/><circle cx="153.2" cy="256.8" r="0.58"/><circle cx="151.8" cy="237.5" r="0.58"/><circle cx="147.0" cy="256.9" r="0.58"/><circle cx="150.2" cy="254.7" r="0.58"/><circle cx="148.3" cy="248.2" r="0.58"/><circle cx="153.3" cy="231.5" r="0.58"/><circle cx="150.4" cy="204.8" r="0.58"/><circle cx="147.1" cy="235.2" r="0.58"/><circle cx="151.0" cy="249.6" r="0.58"/><circle cx="154.2" cy="226.2" r="0.58"/><circle cx="147.6" cy="257.1" r="0.58"/><circle cx="155.5" cy="261.7" r="0.58"/><circle cx="155.3" cy="264.3" r="0.58"/><circle cx="147.8" cy="239.8" r="0.58"/><circle cx="154.5" cy="252.1" r="0.58"/><circle cx="153.7" cy="261.5" r="0.58"/><circle cx="153.3" cy="204.0" r="0.58"/><circle cx="146.9" cy="236.6" r="0.58"/><circle cx="146.9" cy="201.8" r="0.58"/><circle cx="154.3" cy="261.8" r="0.58"/><circle cx="152.0" cy="227.1" r="0.58"/><circle cx="151.2" cy="210.2" r="0.58"/><circle cx="148.9" cy="241.7" r="0.58"/><circle cx="160.4" cy="244.1" r="0.58"/><circle cx="147.4" cy="250.1" r="0.58"/><circle cx="147.1" cy="259.5" r="0.58"/><circle cx="151.1" cy="202.2" r="0.58"/><circle cx="154.3" cy="209.1" r="0.58"/><circle cx="147.4" cy="214.3" r="0.58"/><circle cx="149.9" cy="233.8" r="0.58"/><circle cx="147.0" cy="228.1" r="0.58"/><circle cx="149.3" cy="246.8" r="0.58"/><circle cx="146.8" cy="258.8" r="0.58"/><circle cx="150.3" cy="219.8" r="0.58"/><circle cx="147.4" cy="207.7" r="0.58"/><circle cx="150.4" cy="235.2" r="0.58"/><circle cx="148.1" cy="234.3" r="0.58"/><circle cx="158.6" cy="236.3" r="0.58"/><circle cx="146.9" cy="244.0" r="0.58"/><circle cx="152.3" cy="250.4" r="0.58"/><circle cx="162.5" cy="225.8" r="0.58"/><circle cx="150.4" cy="248.6" r="0.58"/><circle cx="153.3" cy="248.6" r="0.58"/><circle cx="146.7" cy="256.4" r="0.58"/><circle cx="149.8" cy="242.4" r="0.58"/><circle cx="147.9" cy="260.1" r="0.58"/><circle cx="151.2" cy="258.3" r="0.58"/><circle cx="149.1" cy="248.2" r="0.58"/><circle cx="149.7" cy="256.5" r="0.58"/><circle cx="149.6" cy="241.0" r="0.58"/><circle cx="147.4" cy="212.6" r="0.58"/><circle cx="150.0" cy="248.2" r="0.58"/><circle cx="157.2" cy="239.8" r="0.58"/><circle cx="151.2" cy="226.4" r="0.58"/><circle cx="157.2" cy="239.7" r="0.58"/><circle cx="163.9" cy="263.2" r="0.58"/><circle cx="152.0" cy="257.8" r="0.58"/><circle cx="147.2" cy="238.3" r="0.58"/><circle cx="147.8" cy="224.3" r="0.58"/><circle cx="147.0" cy="224.4" r="0.58"/><circle cx="152.0" cy="223.0" r="0.58"/><circle cx="156.1" cy="241.0" r="0.58"/><circle cx="149.2" cy="240.0" r="0.58"/><circle cx="162.0" cy="240.9" r="0.58"/><circle cx="149.3" cy="231.2" r="0.58"/><circle cx="154.3" cy="260.5" r="0.58"/><circle cx="149.0" cy="231.6" r="0.58"/><circle cx="157.6" cy="210.6" r="0.58"/><circle cx="155.1" cy="225.1" r="0.58"/><circle cx="147.9" cy="261.3" r="0.58"/><circle cx="147.7" cy="248.6" r="0.58"/><circle cx="149.8" cy="261.8" r="0.58"/><circle cx="150.0" cy="219.3" r="0.58"/><circle cx="151.5" cy="250.0" r="0.58"/><circle cx="154.1" cy="245.2" r="0.58"/><circle cx="148.3" cy="210.6" r="0.58"/><circle cx="149.1" cy="228.1" r="0.58"/><circle cx="148.4" cy="253.8" r="0.58"/><circle cx="149.8" cy="234.0" r="0.58"/><circle cx="152.8" cy="233.8" r="0.58"/><circle cx="149.7" cy="256.2" r="0.58"/><circle cx="148.9" cy="249.9" r="0.58"/><circle cx="147.6" cy="224.1" r="0.58"/><circle cx="148.2" cy="224.8" r="0.58"/><circle cx="151.2" cy="248.0" r="0.58"/><circle cx="147.1" cy="258.4" r="0.58"/><circle cx="154.6" cy="263.0" r="0.58"/><circle cx="149.7" cy="222.7" r="0.58"/><circle cx="161.0" cy="222.6" r="0.58"/><circle cx="147.2" cy="238.0" r="0.58"/><circle cx="150.4" cy="232.1" r="0.58"/><circle cx="148.5" cy="254.8" r="0.58"/><circle cx="152.8" cy="251.4" r="0.58"/><circle cx="152.8" cy="239.7" r="0.58"/><circle cx="155.0" cy="256.1" r="0.58"/><circle cx="146.9" cy="239.8" r="0.58"/><circle cx="149.5" cy="225.5" r="0.58"/><circle cx="150.6" cy="234.7" r="0.58"/><circle cx="149.0" cy="244.3" r="0.58"/><circle cx="156.8" cy="250.4" r="0.58"/><circle cx="149.6" cy="210.3" r="0.58"/><circle cx="149.6" cy="255.4" r="0.58"/><circle cx="165.5" cy="225.0" r="0.58"/><circle cx="152.4" cy="210.3" r="0.58"/><circle cx="151.6" cy="254.0" r="0.58"/><circle cx="150.4" cy="207.4" r="0.58"/><circle cx="147.0" cy="202.7" r="0.58"/><circle cx="152.7" cy="257.5" r="0.58"/><circle cx="150.7" cy="251.7" r="0.58"/><circle cx="147.4" cy="227.7" r="0.58"/><circle cx="149.1" cy="257.6" r="0.58"/><circle cx="148.1" cy="237.6" r="0.58"/><circle cx="147.5" cy="216.4" r="0.58"/><circle cx="152.1" cy="228.8" r="0.58"/><circle cx="150.2" cy="240.2" r="0.58"/><circle cx="161.9" cy="213.1" r="0.58"/><circle cx="157.5" cy="250.6" r="0.58"/><circle cx="146.9" cy="262.4" r="0.58"/><circle cx="151.3" cy="244.3" r="0.58"/><circle cx="151.1" cy="256.2" r="0.58"/><circle cx="153.9" cy="241.0" r="0.58"/><circle cx="162.5" cy="250.1" r="0.58"/><circle cx="155.4" cy="213.1" r="0.58"/><circle cx="146.8" cy="249.8" r="0.58"/><circle cx="156.7" cy="264.0" r="0.58"/><circle cx="153.1" cy="254.4" r="0.58"/><circle cx="153.9" cy="238.4" r="0.58"/><circle cx="159.6" cy="229.4" r="0.58"/><circle cx="149.2" cy="245.1" r="0.58"/><circle cx="148.3" cy="231.3" r="0.58"/><circle cx="161.7" cy="209.2" r="0.58"/><circle cx="154.2" cy="240.2" r="0.58"/><circle cx="151.6" cy="248.0" r="0.58"/><circle cx="157.1" cy="243.7" r="0.58"/><circle cx="152.4" cy="235.3" r="0.58"/><circle cx="148.0" cy="228.6" r="0.58"/><circle cx="154.5" cy="262.7" r="0.58"/><circle cx="155.6" cy="230.9" r="0.58"/><circle cx="146.6" cy="263.4" r="0.58"/><circle cx="149.2" cy="246.8" r="0.58"/><circle cx="147.3" cy="230.7" r="0.58"/><circle cx="154.8" cy="215.5" r="0.58"/><circle cx="147.9" cy="230.6" r="0.58"/><circle cx="156.9" cy="235.5" r="0.58"/><circle cx="147.7" cy="228.9" r="0.58"/><circle cx="148.3" cy="226.2" r="0.58"/><circle cx="146.7" cy="253.6" r="0.58"/><circle cx="159.1" cy="252.6" r="0.58"/><circle cx="148.9" cy="227.4" r="0.58"/><circle cx="147.7" cy="257.4" r="0.58"/><circle cx="154.7" cy="257.0" r="0.58"/><circle cx="150.9" cy="258.2" r="0.58"/><circle cx="146.9" cy="231.8" r="0.58"/><circle cx="148.9" cy="250.7" r="0.58"/><circle cx="158.7" cy="248.9" r="0.58"/><circle cx="148.1" cy="236.8" r="0.58"/><circle cx="147.9" cy="260.7" r="0.58"/><circle cx="151.5" cy="234.3" r="0.58"/><circle cx="170.2" cy="200.4" r="0.58"/><circle cx="148.6" cy="204.9" r="0.58"/><circle cx="151.3" cy="224.9" r="0.58"/><circle cx="151.6" cy="228.8" r="0.58"/><circle cx="146.9" cy="243.4" r="0.58"/><circle cx="152.9" cy="224.8" r="0.58"/><circle cx="151.8" cy="257.7" r="0.58"/><circle cx="155.5" cy="232.4" r="0.58"/><circle cx="150.6" cy="246.1" r="0.58"/><circle cx="147.3" cy="243.7" r="0.58"/><circle cx="148.5" cy="232.7" r="0.58"/><circle cx="147.5" cy="232.7" r="0.58"/><circle cx="153.7" cy="248.8" r="0.58"/><circle cx="150.8" cy="248.9" r="0.58"/><circle cx="148.9" cy="201.9" r="0.58"/><circle cx="154.0" cy="233.8" r="0.58"/><circle cx="147.6" cy="236.0" r="0.58"/><circle cx="151.4" cy="241.3" r="0.58"/><circle cx="149.7" cy="251.2" r="0.58"/><circle cx="147.9" cy="230.2" r="0.58"/><circle cx="155.5" cy="261.4" r="0.58"/><circle cx="146.9" cy="245.6" r="0.58"/><circle cx="155.8" cy="230.1" r="0.58"/><circle cx="147.0" cy="240.4" r="0.58"/><circle cx="150.3" cy="257.7" r="0.58"/><circle cx="151.1" cy="227.5" r="0.58"/><circle cx="148.0" cy="240.2" r="0.58"/><circle cx="149.0" cy="253.3" r="0.58"/><circle cx="156.3" cy="259.0" r="0.58"/><circle cx="148.8" cy="246.9" r="0.58"/><circle cx="146.9" cy="245.4" r="0.58"/><circle cx="147.6" cy="259.0" r="0.58"/><circle cx="150.6" cy="222.1" r="0.58"/><circle cx="149.8" cy="224.5" r="0.58"/><circle cx="149.3" cy="235.2" r="0.58"/><circle cx="147.9" cy="244.1" r="0.58"/><circle cx="148.2" cy="233.2" r="0.58"/><circle cx="148.4" cy="250.9" r="0.58"/><circle cx="149.3" cy="252.2" r="0.58"/><circle cx="158.7" cy="231.5" r="0.58"/><circle cx="146.8" cy="204.3" r="0.58"/><circle cx="151.3" cy="232.5" r="0.58"/><circle cx="150.3" cy="254.9" r="0.58"/><circle cx="149.6" cy="238.3" r="0.58"/><circle cx="154.4" cy="224.3" r="0.58"/></g>
<rect x="31.5" y="176.6" width="163" height="110.7" fill="none" stroke="#444" stroke-width="0.8"/>
<line x1="31.5" y1="176.6" x2="31.5" y2="287.9" stroke="#333" stroke-width="1.4" />
<line x1="30.9" y1="287.3" x2="194.5" y2="287.3" stroke="#333" stroke-width="1.4" />
<line x1="29.3" y1="283.08" x2="31.5" y2="283.08" stroke="#333" stroke-width="0.8" />
<text x="28.3" y="284.88" font-size="5.1" font-family='"Liberation Serif", serif' text-anchor="end" fill="#222" stroke="#222" stroke-width="0.1" >0</text>
<line x1="29.3" y1="269.42" x2="31.5" y2="269.42" stroke="#333" stroke-width="0.8" />
<text x="28.3" y="271.22" font-size="5.1" font-family='"Liberation Serif", serif' text-anchor="end" fill="#222" stroke="#222" stroke-width="0.1" >1</text>
<line x1="29.3" y1="255.76" x2="31.5" y2="255.76" stroke="#333" stroke-width="0.8" />
<text x="28.3" y="257.56" font-size="5.1" font-family='"Liberation Serif", serif' text-anchor="end" fill="#222" stroke="#222" stroke-width="0.1" >2</text>
<line x1="29.3" y1="242.1" x2="31.5" y2="242.1" stroke="#333" stroke-width="0.8" />
<text x="28.3" y="243.9" font-size="5.1" font-family='"Liberation Serif", serif' text-anchor="end" fill="#222" stroke="#222" stroke-width="0.1" >3</text>
<line x1="29.3" y1="228.44" x2="31.5" y2="228.44" stroke="#333" stroke-width="0.8" />
<text x="28.3" y="230.24" font-size="5.1" font-family='"Liberation Serif", serif' text-anchor="end" fill="#222" stroke="#222" stroke-width="0.1" >4</text>
<line x1="29.3" y1="214.78" x2="31.5" y2="214.78" stroke="#333" stroke-width="0.8" />
<text x="28.3" y="216.58" font-size="5.1" font-family='"Liberation Serif", serif' text-anchor="end" fill="#222" stroke="#222" stroke-width="0.1" >5</text>
<line x1="29.3" y1="201.12" x2="31.5" y2="201.12" stroke="#333" stroke-width="0.8" />
<text x="28.3" y="202.92" font-size="5.1" font-family='"Liberation Serif", serif' text-anchor="end" fill="#222" stroke="#222" stroke-width="0.1" >6</text>
<line x1="29.3" y1="187.46" x2="31.5" y2="187.46" stroke="#333" stroke-width="0.8" />
<text x="28.3" y="189.26" font-size="5.1" font-family='"Liberation Serif", serif' text-anchor="end" fill="#222" stroke="#222" stroke-width="0.1" >7</text>
<line x1="47.53" y1="287.3" x2="47.53" y2="289.5" stroke="#333" stroke-width="0.8" />
<text x="47.53" y="294.6" font-size="5.1" font-family='"Liberation Serif", serif' text-anchor="middle" fill="#222" stroke="#222" stroke-width="0.1" >−1.5</text>
<line x1="71.15" y1="287.3" x2="71.15" y2="289.5" stroke="#333" stroke-width="0.8" />
<text x="71.15" y="294.6" font-size="5.1" font-family='"Liberation Serif", serif' text-anchor="middle" fill="#222" stroke="#222" stroke-width="0.1" >−1.0</text>
<line x1="94.78" y1="287.3" x2="94.78" y2="289.5" stroke="#333" stroke-width="0.8" />
<text x="94.78" y="294.6" font-size="5.1" font-family='"Liberation Serif", serif' text-anchor="middle" fill="#222" stroke="#222" stroke-width="0.1" >−0.5</text>
<line x1="118.4" y1="287.3" x2="118.4" y2="289.5" stroke="#333" stroke-width="0.8" />
<text x="118.4" y="294.6" font-size="5.1" font-family='"Liberation Serif", serif' text-anchor="middle" fill="#222" stroke="#222" stroke-width="0.1" >0.0</text>
<line x1="142.03" y1="287.3" x2="142.03" y2="289.5" stroke="#333" stroke-width="0.8" />
<text x="142.03" y="294.6" font-size="5.1" font-family='"Liberation Serif", serif' text-anchor="middle" fill="#222" stroke="#222" stroke-width="0.1" >0.5</text>
<line x1="165.65" y1="287.3" x2="165.65" y2="289.5" stroke="#333" stroke-width="0.8" />
<text x="165.65" y="294.6" font-size="5.1" font-family='"Liberation Serif", serif' text-anchor="middle" fill="#222" stroke="#222" stroke-width="0.1" >1.0</text>
<line x1="189.28" y1="287.3" x2="189.28" y2="289.5" stroke="#333" stroke-width="0.8" />
<text x="189.28" y="294.6" font-size="5.1" font-family='"Liberation Serif", serif' text-anchor="middle" fill="#222" stroke="#222" stroke-width="0.1" >1.5</text>
<text x="113" y="300.3" font-size="5.1" font-family='"Liberation Serif", serif' text-anchor="middle" fill="#222" stroke="#222" stroke-width="0.1" >log2(FoldChange)</text>
<text x="0" y="0" font-size="5.1" font-family='"Liberation Serif", serif' text-anchor="middle" fill="#222" stroke="#222" stroke-width="0.1" transform="translate(23.1,227.5) rotate(-90)">-log10(pvalue)</text>
<text x="198.9" y="182.5" font-size="5.1" font-family='"Liberation Serif", serif' text-anchor="start" fill="#222" stroke="#222" stroke-width="0.1" >Regulated</text>
<polygon points="199.1,189.6 203.9,189.6 201.5,185.2" fill="#e0402a" />
<text x="205.9" y="190.1" font-size="5.1" font-family='"Liberation Serif", serif' text-anchor="start" fill="#222" stroke="#222" stroke-width="0.1" >Up-regulated</text>
<polygon points="199.1,193.8 203.9,193.8 201.5,198.2" fill="#0b7a3e" />
<text x="205.9" y="198.4" font-size="5.1" font-family='"Liberation Serif", serif' text-anchor="start" fill="#222" stroke="#222" stroke-width="0.1" >Down-regulated</text>
<line x1="335.14" y1="167" x2="335.14" y2="323.3" stroke="#f1f1f1" stroke-width="0.45" />
<line x1="359.71" y1="167" x2="359.71" y2="323.3" stroke="#f1f1f1" stroke-width="0.45" />
<line x1="384.29" y1="167" x2="384.29" y2="323.3" stroke="#f1f1f1" stroke-width="0.45" />
<line x1="321" y1="312.6" x2="404.3" y2="312.6" stroke="#f1f1f1" stroke-width="0.45" />
<line x1="321" y1="276.4" x2="404.3" y2="276.4" stroke="#f1f1f1" stroke-width="0.45" />
<line x1="321" y1="240.2" x2="404.3" y2="240.2" stroke="#f1f1f1" stroke-width="0.45" />
<line x1="321" y1="204" x2="404.3" y2="204" stroke="#f1f1f1" stroke-width="0.45" />
<line x1="321" y1="167.8" x2="404.3" y2="167.8" stroke="#f1f1f1" stroke-width="0.45" />
<line x1="322.86" y1="167" x2="322.86" y2="323.3" stroke="#e6e6e6" stroke-width="0.6" />
<line x1="347.43" y1="167" x2="347.43" y2="323.3" stroke="#e6e6e6" stroke-width="0.6" />
<line x1="372" y1="167" x2="372" y2="323.3" stroke="#e6e6e6" stroke-width="0.6" />
<line x1="396.57" y1="167" x2="396.57" y2="323.3" stroke="#e6e6e6" stroke-width="0.6" />
<line x1="321" y1="294.5" x2="404.3" y2="294.5" stroke="#e6e6e6" stroke-width="0.6" />
<line x1="321" y1="258.3" x2="404.3" y2="258.3" stroke="#e6e6e6" stroke-width="0.6" />
<line x1="321" y1="222.1" x2="404.3" y2="222.1" stroke="#e6e6e6" stroke-width="0.6" />
<line x1="321" y1="185.9" x2="404.3" y2="185.9" stroke="#e6e6e6" stroke-width="0.6" />
<ellipse cx="329.6" cy="209.45" rx="5.27" ry="25.2" transform="rotate(-6.4 329.6 209.45)" fill="#F2665F" fill-opacity="0.12" stroke="#F2665F" stroke-opacity="0.72" stroke-width="1.15"/>
<ellipse cx="371.7" cy="234.5" rx="15" ry="61" transform="rotate(0.8 371.7 234.5)" fill="#14AD36" fill-opacity="0.12" stroke="#14AD36" stroke-opacity="0.72" stroke-width="1.15"/>
<ellipse cx="391.6" cy="209.2" rx="4.3" ry="18.7" transform="rotate(-25.2 391.6 209.2)" fill="#5A8EE6" fill-opacity="0.12" stroke="#5A8EE6" stroke-opacity="0.72" stroke-width="1.15"/>
<line x1="372" y1="167" x2="372" y2="323.3" stroke="#2e2e2e" stroke-width="1.05" stroke-dasharray="2.4,2.6"/>
<line x1="321" y1="222.1" x2="404.3" y2="222.1" stroke="#2e2e2e" stroke-width="1.05" stroke-dasharray="2.4,2.6"/>
<circle cx="326.5" cy="205.3" r="1.25" fill="#F2665F"/>
<circle cx="329.4" cy="202.9" r="1.25" fill="#F2665F"/>
<circle cx="330.3" cy="204.5" r="1.25" fill="#F2665F"/>
<circle cx="331.4" cy="222.9" r="1.25" fill="#F2665F"/>
<circle cx="327.8" cy="223" r="1.25" fill="#F2665F"/>
<circle cx="329.7" cy="209.4" r="2" fill="#F2665F"/>
<rect x="388.51" y="201.01" width="2.38" height="2.38" fill="#5A8EE6"/>
<rect x="387.71" y="203.01" width="2.38" height="2.38" fill="#5A8EE6"/>
<rect x="388.91" y="205.11" width="2.38" height="2.38" fill="#5A8EE6"/>
<rect x="390.61" y="208.31" width="2.38" height="2.38" fill="#5A8EE6"/>
<rect x="388.91" y="210.01" width="2.38" height="2.38" fill="#5A8EE6"/>
<rect x="391.11" y="216.11" width="2.38" height="2.38" fill="#5A8EE6"/>
<rect x="395.21" y="216.91" width="2.38" height="2.38" fill="#5A8EE6"/>
<rect x="399.01" y="217.71" width="2.38" height="2.38" fill="#5A8EE6"/>
<rect x="388.31" y="202.31" width="2.38" height="2.38" fill="#5A8EE6"/>
<rect x="389.1" y="206.6" width="3.8" height="3.8" fill="#5A8EE6"/>
<polygon points="370.7,215.8 369.14,218.38 372.26,218.38" fill="#14AD36"/>
<polygon points="366.5,220 364.94,222.58 368.06,222.58" fill="#14AD36"/>
<polygon points="369.6,224.1 368.04,226.68 371.16,226.68" fill="#14AD36"/>
<polygon points="370.3,226.4 368.74,228.98 371.86,228.98" fill="#14AD36"/>
<polygon points="380.2,224.1 378.64,226.68 381.76,226.68" fill="#14AD36"/>
<polygon points="385.4,235.4 383.84,237.98 386.96,237.98" fill="#14AD36"/>
<polygon points="376.6,246.5 375.04,249.08 378.16,249.08" fill="#14AD36"/>
<polygon points="380.7,265 379.14,267.58 382.26,267.58" fill="#14AD36"/>
<polygon points="362.1,315 360.54,317.58 363.66,317.58" fill="#14AD36"/>
<polygon points="369.5,230.5 367.94,233.08 371.06,233.08" fill="#14AD36"/>
<polygon points="371.5,234 369.94,236.58 373.06,236.58" fill="#14AD36"/>
<polygon points="368.5,220.5 366.94,223.08 370.06,223.08" fill="#14AD36"/>
<polygon points="372,228 370.44,230.58 373.56,230.58" fill="#14AD36"/>
<polygon points="370.7,231.5 368.1,235.6 373.3,235.6" fill="#14AD36"/>
<line x1="319.1" y1="294.5" x2="321" y2="294.5" stroke="#333" stroke-width="0.75" />
<text x="317.8" y="296.35" font-size="5.15" font-family='"Liberation Sans", sans-serif' text-anchor="end" fill="#4d4d4d" stroke="#4d4d4d" stroke-width="0.14" >−200</text>
<line x1="319.1" y1="258.3" x2="321" y2="258.3" stroke="#333" stroke-width="0.75" />
<text x="317.8" y="260.15" font-size="5.15" font-family='"Liberation Sans", sans-serif' text-anchor="end" fill="#4d4d4d" stroke="#4d4d4d" stroke-width="0.14" >−100</text>
<line x1="319.1" y1="222.1" x2="321" y2="222.1" stroke="#333" stroke-width="0.75" />
<text x="317.8" y="223.95" font-size="5.15" font-family='"Liberation Sans", sans-serif' text-anchor="end" fill="#4d4d4d" stroke="#4d4d4d" stroke-width="0.14" >0</text>
<line x1="319.1" y1="185.9" x2="321" y2="185.9" stroke="#333" stroke-width="0.75" />
<text x="317.8" y="187.75" font-size="5.15" font-family='"Liberation Sans", sans-serif' text-anchor="end" fill="#4d4d4d" stroke="#4d4d4d" stroke-width="0.14" >100</text>
<line x1="322.86" y1="323.3" x2="322.86" y2="325.2" stroke="#333" stroke-width="0.75" />
<text x="322.86" y="330.2" font-size="5.15" font-family='"Liberation Sans", sans-serif' text-anchor="middle" fill="#4d4d4d" stroke="#4d4d4d" stroke-width="0.14" >−200</text>
<line x1="347.43" y1="323.3" x2="347.43" y2="325.2" stroke="#333" stroke-width="0.75" />
<text x="347.43" y="330.2" font-size="5.15" font-family='"Liberation Sans", sans-serif' text-anchor="middle" fill="#4d4d4d" stroke="#4d4d4d" stroke-width="0.14" >−100</text>
<line x1="372" y1="323.3" x2="372" y2="325.2" stroke="#333" stroke-width="0.75" />
<text x="372" y="330.2" font-size="5.15" font-family='"Liberation Sans", sans-serif' text-anchor="middle" fill="#4d4d4d" stroke="#4d4d4d" stroke-width="0.14" >0</text>
<line x1="396.57" y1="323.3" x2="396.57" y2="325.2" stroke="#333" stroke-width="0.75" />
<text x="396.57" y="330.2" font-size="5.15" font-family='"Liberation Sans", sans-serif' text-anchor="middle" fill="#4d4d4d" stroke="#4d4d4d" stroke-width="0.14" >100</text>
<text x="320.8" y="162" font-size="7.6" font-family='"Liberation Sans", sans-serif' text-anchor="start" fill="#111" stroke="#111" stroke-width="0.14" >Individuals − PCA</text>
<text x="362.4" y="337.8" font-size="6.3" font-family='"Liberation Sans", sans-serif' text-anchor="middle" fill="#111" stroke="#111" stroke-width="0.14" >Dim1 (35.1%)</text>
<text x="0" y="0" font-size="6.3" font-family='"Liberation Sans", sans-serif' text-anchor="middle" fill="#111" stroke="#111" stroke-width="0.14" transform="translate(303.4,245.5) rotate(-90)">Dim2 (16%)</text>
<text x="414" y="231" font-size="6.3" font-family='"Liberation Sans", sans-serif' text-anchor="start" fill="#111" stroke="#111" stroke-width="0.14" >Groups</text>
<rect x="414.5" y="235.6" width="9" height="9" fill="#F2665F" fill-opacity="0.05" stroke="#F2665F" stroke-opacity="0.75" stroke-width="0.75"/>
<circle cx="419" cy="240.1" r="1.95" fill="#F2665F"/>
<text x="427" y="242" font-size="5.35" font-family='"Liberation Sans", sans-serif' text-anchor="start" fill="#222" stroke="#222" stroke-width="0.08" >GSE31821</text>
<rect x="414.5" y="245.9" width="9" height="9" fill="#14AD36" fill-opacity="0.05" stroke="#14AD36" stroke-opacity="0.75" stroke-width="0.75"/>
<polygon points="419,247.95 416.2,252.34 421.8,252.34" fill="#14AD36"/>
<text x="427" y="252.3" font-size="5.35" font-family='"Liberation Sans", sans-serif' text-anchor="start" fill="#222" stroke="#222" stroke-width="0.08" >GSE41177</text>
<rect x="414.5" y="256.2" width="9" height="9" fill="#5A8EE6" fill-opacity="0.05" stroke="#5A8EE6" stroke-opacity="0.75" stroke-width="0.75"/>
<rect x="416.86" y="258.56" width="4.27" height="4.27" fill="#5A8EE6"/>
<text x="427" y="262.6" font-size="5.35" font-family='"Liberation Sans", sans-serif' text-anchor="start" fill="#222" stroke="#222" stroke-width="0.08" >GSE79768</text>
<line x1="69.2" y1="373.9" x2="69.2" y2="530.3" stroke="#f1f1f1" stroke-width="0.45" />
<line x1="87" y1="373.9" x2="87" y2="530.3" stroke="#f1f1f1" stroke-width="0.45" />
<line x1="104.8" y1="373.9" x2="104.8" y2="530.3" stroke="#f1f1f1" stroke-width="0.45" />
<line x1="122.6" y1="373.9" x2="122.6" y2="530.3" stroke="#f1f1f1" stroke-width="0.45" />
<line x1="57" y1="500.14" x2="139.5" y2="500.14" stroke="#f1f1f1" stroke-width="0.45" />
<line x1="57" y1="464.68" x2="139.5" y2="464.68" stroke="#f1f1f1" stroke-width="0.45" />
<line x1="57" y1="429.22" x2="139.5" y2="429.22" stroke="#f1f1f1" stroke-width="0.45" />
<line x1="57" y1="393.76" x2="139.5" y2="393.76" stroke="#f1f1f1" stroke-width="0.45" />
<line x1="60.3" y1="373.9" x2="60.3" y2="530.3" stroke="#e6e6e6" stroke-width="0.6" />
<line x1="78.1" y1="373.9" x2="78.1" y2="530.3" stroke="#e6e6e6" stroke-width="0.6" />
<line x1="95.9" y1="373.9" x2="95.9" y2="530.3" stroke="#e6e6e6" stroke-width="0.6" />
<line x1="113.7" y1="373.9" x2="113.7" y2="530.3" stroke="#e6e6e6" stroke-width="0.6" />
<line x1="131.5" y1="373.9" x2="131.5" y2="530.3" stroke="#e6e6e6" stroke-width="0.6" />
<line x1="57" y1="517.87" x2="139.5" y2="517.87" stroke="#e6e6e6" stroke-width="0.6" />
<line x1="57" y1="482.41" x2="139.5" y2="482.41" stroke="#e6e6e6" stroke-width="0.6" />
<line x1="57" y1="446.95" x2="139.5" y2="446.95" stroke="#e6e6e6" stroke-width="0.6" />
<line x1="57" y1="411.49" x2="139.5" y2="411.49" stroke="#e6e6e6" stroke-width="0.6" />
<line x1="57" y1="376.03" x2="139.5" y2="376.03" stroke="#e6e6e6" stroke-width="0.6" />
<ellipse cx="95.6" cy="449" rx="33" ry="68.5" transform="rotate(-12.5 95.6 449)" fill="#14AD36" fill-opacity="0.12" stroke="#14AD36" stroke-opacity="0.72" stroke-width="0.8"/>
<ellipse cx="94.7" cy="446.4" rx="32.9" ry="21.5" transform="rotate(-25.8 94.7 446.4)" fill="#F2665F" fill-opacity="0.12" stroke="#F2665F" stroke-opacity="0.72" stroke-width="0.8"/>
<ellipse cx="96" cy="444.4" rx="14.9" ry="46.7" transform="rotate(39.5 96 444.4)" fill="#5A8EE6" fill-opacity="0.12" stroke="#5A8EE6" stroke-opacity="0.72" stroke-width="0.8"/>
<line x1="95.9" y1="373.9" x2="95.9" y2="530.3" stroke="#555" stroke-width="1.05" stroke-dasharray="2.4,2.6"/>
<line x1="57" y1="446.95" x2="139.5" y2="446.95" stroke="#555" stroke-width="1.05" stroke-dasharray="2.4,2.6"/>
<circle cx="84.7" cy="443" r="1.25" fill="#F2665F"/>
<circle cx="92.5" cy="441.4" r="1.25" fill="#F2665F"/>
<circle cx="111" cy="440.5" r="1.25" fill="#F2665F"/>
<circle cx="93.2" cy="446.4" r="1.25" fill="#F2665F"/>
<circle cx="92.5" cy="449.8" r="1.25" fill="#F2665F"/>
<circle cx="90.6" cy="458.7" r="1.25" fill="#F2665F"/>
<circle cx="112" cy="441.8" r="1.25" fill="#F2665F"/>
<rect x="114.11" y="406.81" width="2.38" height="2.38" fill="#5A8EE6"/>
<rect x="110.61" y="429.71" width="2.38" height="2.38" fill="#5A8EE6"/>
<rect x="108.61" y="437.41" width="2.38" height="2.38" fill="#5A8EE6"/>
<rect x="102.81" y="453.21" width="2.38" height="2.38" fill="#5A8EE6"/>
<rect x="81.21" y="449.81" width="2.38" height="2.38" fill="#5A8EE6"/>
<rect x="84.81" y="446.41" width="2.38" height="2.38" fill="#5A8EE6"/>
<rect x="81.21" y="460.61" width="2.38" height="2.38" fill="#5A8EE6"/>
<rect x="99.01" y="446.71" width="2.38" height="2.38" fill="#5A8EE6"/>
<rect x="88.21" y="449.81" width="2.38" height="2.38" fill="#5A8EE6"/>
<rect x="96.31" y="444.31" width="2.38" height="2.38" fill="#5A8EE6"/>
<rect x="97.31" y="447.31" width="2.38" height="2.38" fill="#5A8EE6"/>
<rect x="83.81" y="454.81" width="2.38" height="2.38" fill="#5A8EE6"/>
<polygon points="90.6,407.8 89.04,410.38 92.16,410.38" fill="#14AD36"/>
<polygon points="106.4,430.2 104.84,432.78 107.96,432.78" fill="#14AD36"/>
<polygon points="122.6,418.6 121.04,421.18 124.16,421.18" fill="#14AD36"/>
<polygon points="84.4,458.5 82.84,461.08 85.96,461.08" fill="#14AD36"/>
<polygon points="84,452.9 82.44,455.48 85.56,455.48" fill="#14AD36"/>
<polygon points="87.8,452.6 86.24,455.18 89.36,455.18" fill="#14AD36"/>
<polygon points="90.1,451.8 88.54,454.38 91.66,454.38" fill="#14AD36"/>
<polygon points="91.7,455.7 90.14,458.28 93.26,458.28" fill="#14AD36"/>
<polygon points="97.1,450.3 95.54,452.88 98.66,452.88" fill="#14AD36"/>
<polygon points="88.6,442.5 87.04,445.08 90.16,445.08" fill="#14AD36"/>
<polygon points="102.2,394.1 100.64,396.68 103.76,396.68" fill="#14AD36"/>
<polygon points="135.7,521.6 134.14,524.18 137.26,524.18" fill="#14AD36"/>
<polygon points="93,453.5 91.44,456.08 94.56,456.08" fill="#14AD36"/>
<polygon points="89,455.5 87.44,458.08 90.56,458.08" fill="#14AD36"/>
<polygon points="94.5,448.5 92.94,451.08 96.06,451.08" fill="#14AD36"/>
<circle cx="94.6" cy="447.2" r="2" fill="#F2665F"/>
<rect x="94.4" y="442.9" width="3.8" height="3.8" fill="#5A8EE6"/>
<polygon points="95.5,446.4 92.9,450.5 98.1,450.5" fill="#14AD36"/>
<line x1="55.1" y1="517.87" x2="57" y2="517.87" stroke="#333" stroke-width="0.75" />
<text x="53.8" y="519.72" font-size="5.15" font-family='"Liberation Sans", sans-serif' text-anchor="end" fill="#4d4d4d" stroke="#4d4d4d" stroke-width="0.14" >−200</text>
<line x1="55.1" y1="482.41" x2="57" y2="482.41" stroke="#333" stroke-width="0.75" />
<text x="53.8" y="484.26" font-size="5.15" font-family='"Liberation Sans", sans-serif' text-anchor="end" fill="#4d4d4d" stroke="#4d4d4d" stroke-width="0.14" >−100</text>
<line x1="55.1" y1="446.95" x2="57" y2="446.95" stroke="#333" stroke-width="0.75" />
<text x="53.8" y="448.8" font-size="5.15" font-family='"Liberation Sans", sans-serif' text-anchor="end" fill="#4d4d4d" stroke="#4d4d4d" stroke-width="0.14" >0</text>
<line x1="55.1" y1="411.49" x2="57" y2="411.49" stroke="#333" stroke-width="0.75" />
<text x="53.8" y="413.34" font-size="5.15" font-family='"Liberation Sans", sans-serif' text-anchor="end" fill="#4d4d4d" stroke="#4d4d4d" stroke-width="0.14" >100</text>
<line x1="55.1" y1="376.03" x2="57" y2="376.03" stroke="#333" stroke-width="0.75" />
<text x="53.8" y="377.88" font-size="5.15" font-family='"Liberation Sans", sans-serif' text-anchor="end" fill="#4d4d4d" stroke="#4d4d4d" stroke-width="0.14" >200</text>
<line x1="60.3" y1="530.3" x2="60.3" y2="532.2" stroke="#333" stroke-width="0.75" />
<text x="60.3" y="537.2" font-size="5.15" font-family='"Liberation Sans", sans-serif' text-anchor="middle" fill="#4d4d4d" stroke="#4d4d4d" stroke-width="0.14" >−200</text>
<line x1="78.1" y1="530.3" x2="78.1" y2="532.2" stroke="#333" stroke-width="0.75" />
<text x="78.1" y="537.2" font-size="5.15" font-family='"Liberation Sans", sans-serif' text-anchor="middle" fill="#4d4d4d" stroke="#4d4d4d" stroke-width="0.14" >−100</text>
<line x1="95.9" y1="530.3" x2="95.9" y2="532.2" stroke="#333" stroke-width="0.75" />
<text x="95.9" y="537.2" font-size="5.15" font-family='"Liberation Sans", sans-serif' text-anchor="middle" fill="#4d4d4d" stroke="#4d4d4d" stroke-width="0.14" >0</text>
<line x1="113.7" y1="530.3" x2="113.7" y2="532.2" stroke="#333" stroke-width="0.75" />
<text x="113.7" y="537.2" font-size="5.15" font-family='"Liberation Sans", sans-serif' text-anchor="middle" fill="#4d4d4d" stroke="#4d4d4d" stroke-width="0.14" >100</text>
<line x1="131.5" y1="530.3" x2="131.5" y2="532.2" stroke="#333" stroke-width="0.75" />
<text x="131.5" y="537.2" font-size="5.15" font-family='"Liberation Sans", sans-serif' text-anchor="middle" fill="#4d4d4d" stroke="#4d4d4d" stroke-width="0.14" >200</text>
<text x="56.6" y="369" font-size="7.6" font-family='"Liberation Sans", sans-serif' text-anchor="start" fill="#111" stroke="#111" stroke-width="0.14" >Individuals − PCA</text>
<text x="98.4" y="544.6" font-size="6.3" font-family='"Liberation Sans", sans-serif' text-anchor="middle" fill="#111" stroke="#111" stroke-width="0.14" >Dim1 (21.1%)</text>
<text x="0" y="0" font-size="6.3" font-family='"Liberation Sans", sans-serif' text-anchor="middle" fill="#111" stroke="#111" stroke-width="0.14" transform="translate(38.9,451.8) rotate(-90)">Dim2 (14.4%)</text>
<text x="149.5" y="438" font-size="6.3" font-family='"Liberation Sans", sans-serif' text-anchor="start" fill="#111" stroke="#111" stroke-width="0.14" >Groups</text>
<rect x="150" y="442.6" width="9" height="9" fill="#F2665F" fill-opacity="0.05" stroke="#F2665F" stroke-opacity="0.75" stroke-width="0.75"/>
<circle cx="154.5" cy="447.1" r="1.95" fill="#F2665F"/>
<text x="162.8" y="449" font-size="5.35" font-family='"Liberation Sans", sans-serif' text-anchor="start" fill="#222" stroke="#222" stroke-width="0.08" >GSE31821</text>
<rect x="150" y="452.7" width="9" height="9" fill="#14AD36" fill-opacity="0.05" stroke="#14AD36" stroke-opacity="0.75" stroke-width="0.75"/>
<polygon points="154.5,454.75 151.71,459.14 157.29,459.14" fill="#14AD36"/>
<text x="162.8" y="459.1" font-size="5.35" font-family='"Liberation Sans", sans-serif' text-anchor="start" fill="#222" stroke="#222" stroke-width="0.08" >GSE41177</text>
<rect x="150" y="462.8" width="9" height="9" fill="#5A8EE6" fill-opacity="0.05" stroke="#5A8EE6" stroke-opacity="0.75" stroke-width="0.75"/>
<rect x="152.36" y="465.16" width="4.27" height="4.27" fill="#5A8EE6"/>
<text x="162.8" y="469.2" font-size="5.35" font-family='"Liberation Sans", sans-serif' text-anchor="start" fill="#222" stroke="#222" stroke-width="0.08" >GSE79768</text>
<ellipse cx="265.95" cy="414.2" rx="35.1" ry="32.2" fill="#1428a0" fill-opacity="0.5" stroke="#1428a0" stroke-opacity="0.3" stroke-width="0.7"/>
<ellipse cx="298.35" cy="414.2" rx="35.1" ry="32.2" fill="#d01818" fill-opacity="0.5" stroke="#d01818" stroke-opacity="0.3" stroke-width="0.7"/>
<ellipse cx="281.8" cy="442.25" rx="35.1" ry="32.2" fill="#129612" fill-opacity="0.5" stroke="#129612" stroke-opacity="0.3" stroke-width="0.7"/>
<text x="249.9" y="381.6" font-size="6.55" font-family='"Liberation Sans", sans-serif' text-anchor="middle" fill="#111" stroke="#111" stroke-width="0.1" >GSE120895</text>
<text x="311.6" y="382" font-size="6.55" font-family='"Liberation Sans", sans-serif' text-anchor="middle" fill="#111" stroke="#111" stroke-width="0.1" >GSE57338</text>
<text x="247.9" y="409.9" font-size="8" font-family='"Liberation Sans", sans-serif' text-anchor="middle" fill="#111" stroke="#111" stroke-width="0.3" >43</text>
<text x="281.9" y="404" font-size="8" font-family='"Liberation Sans", sans-serif' text-anchor="middle" fill="#111" stroke="#111" stroke-width="0.3" >20</text>
<text x="314.6" y="409.9" font-size="8" font-family='"Liberation Sans", sans-serif' text-anchor="middle" fill="#111" stroke="#111" stroke-width="0.3" >122</text>
<text x="281.9" y="425.4" font-size="8" font-family='"Liberation Sans", sans-serif' text-anchor="middle" fill="#111" stroke="#111" stroke-width="0.3" >2</text>
<text x="259.2" y="439.9" font-size="8" font-family='"Liberation Sans", sans-serif' text-anchor="middle" fill="#111" stroke="#111" stroke-width="0.3" >5</text>
<text x="301.9" y="440.6" font-size="8" font-family='"Liberation Sans", sans-serif' text-anchor="middle" fill="#111" stroke="#111" stroke-width="0.3" >13</text>
<text x="280.9" y="461.2" font-size="8" font-family='"Liberation Sans", sans-serif' text-anchor="middle" fill="#111" stroke="#111" stroke-width="0.3" >455</text>
<text x="281.4" y="480.8" font-size="6.55" font-family='"Liberation Sans", sans-serif' text-anchor="middle" fill="#111" stroke="#111" stroke-width="0.1" >Atrial Fibrillation</text>
<ellipse cx="415.1" cy="412.5" rx="34.4" ry="31.1" fill="#1428a0" fill-opacity="0.5" stroke="#1428a0" stroke-opacity="0.3" stroke-width="0.7"/>
<ellipse cx="447" cy="412.5" rx="34.4" ry="31.1" fill="#d01818" fill-opacity="0.5" stroke="#d01818" stroke-opacity="0.3" stroke-width="0.7"/>
<ellipse cx="430.6" cy="439.4" rx="34.4" ry="31.1" fill="#129612" fill-opacity="0.5" stroke="#129612" stroke-opacity="0.3" stroke-width="0.7"/>
<text x="399.75" y="381.4" font-size="6.55" font-family='"Liberation Sans", sans-serif' text-anchor="middle" fill="#111" stroke="#111" stroke-width="0.1" >GSE120895</text>
<text x="460" y="382" font-size="6.55" font-family='"Liberation Sans", sans-serif' text-anchor="middle" fill="#111" stroke="#111" stroke-width="0.1" >GSE57338</text>
<text x="397.4" y="408.6" font-size="8" font-family='"Liberation Sans", sans-serif' text-anchor="middle" fill="#111" stroke="#111" stroke-width="0.3" >270</text>
<text x="430.9" y="403" font-size="8" font-family='"Liberation Sans", sans-serif' text-anchor="middle" fill="#111" stroke="#111" stroke-width="0.3" >11</text>
<text x="462.9" y="408" font-size="8" font-family='"Liberation Sans", sans-serif' text-anchor="middle" fill="#111" stroke="#111" stroke-width="0.3" >150</text>
<text x="431" y="423.6" font-size="8" font-family='"Liberation Sans", sans-serif' text-anchor="middle" fill="#111" stroke="#111" stroke-width="0.3" >3</text>
<text x="408.8" y="438.1" font-size="8" font-family='"Liberation Sans", sans-serif' text-anchor="middle" fill="#111" stroke="#111" stroke-width="0.3" >8</text>
<text x="450.1" y="438.7" font-size="8" font-family='"Liberation Sans", sans-serif' text-anchor="middle" fill="#111" stroke="#111" stroke-width="0.3" >2</text>
<text x="429.8" y="457.9" font-size="8" font-family='"Liberation Sans", sans-serif' text-anchor="middle" fill="#111" stroke="#111" stroke-width="0.3" >97</text>
<text x="430.3" y="476.7" font-size="6.55" font-family='"Liberation Sans", sans-serif' text-anchor="middle" fill="#111" stroke="#111" stroke-width="0.1" >Atrial Fibrillation</text>
<text x="5" y="16.3" font-size="17.8" font-family='"Liberation Sans", sans-serif' text-anchor="start" fill="#111" stroke="#111" stroke-width="0" >A</text>
<text x="264.3" y="16.1" font-size="17.8" font-family='"Liberation Sans", sans-serif' text-anchor="start" fill="#111" stroke="#111" stroke-width="0" >B</text>
<text x="4.6" y="167.8" font-size="17.8" font-family='"Liberation Sans", sans-serif' text-anchor="start" fill="#111" stroke="#111" stroke-width="0" >C</text>
<text x="264.3" y="168.9" font-size="17.8" font-family='"Liberation Sans", sans-serif' text-anchor="start" fill="#111" stroke="#111" stroke-width="0" >D</text>
<text x="9.9" y="359.9" font-size="17.8" font-family='"Liberation Sans", sans-serif' text-anchor="start" fill="#111" stroke="#111" stroke-width="0" >E</text>
<text x="227.2" y="360.5" font-size="17.8" font-family='"Liberation Sans", sans-serif' text-anchor="start" fill="#111" stroke="#111" stroke-width="0" >F</text>
<text x="377.3" y="360.4" font-size="17.8" font-family='"Liberation Sans", sans-serif' text-anchor="start" fill="#111" stroke="#111" stroke-width="0" >G</text>
</svg></div>
</body></html>
